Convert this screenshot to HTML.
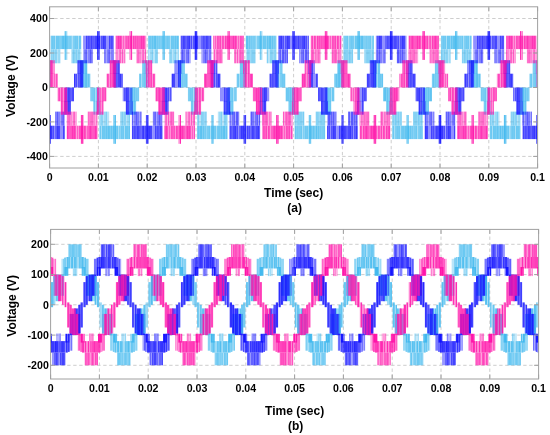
<!DOCTYPE html>
<html><head><meta charset="utf-8"><title>Voltage waveforms</title>
<style>html,body{margin:0;padding:0;background:#fff;width:550px;height:435px;overflow:hidden}svg{display:block;filter:blur(0.4px)}</style>
</head><body>
<svg width="550" height="435" viewBox="0 0 550 435">
<style>
.g{stroke:#cecece;stroke-width:1;stroke-dasharray:3.4 2.6;stroke-dashoffset:1.4;fill:none}
.gv{stroke:#cecece;stroke-width:1;stroke-dasharray:3.4 2.6;stroke-dashoffset:4.9;fill:none}
.ax{fill:none;stroke:#a0a0a0;stroke-width:1}
.tk{stroke:#a0a0a0;stroke-width:1}
.t{font-family:"Liberation Sans",Arial,sans-serif;font-weight:bold;font-size:10.6px;fill:#000}
.l{font-family:"Liberation Sans",Arial,sans-serif;font-weight:bold;font-size:12px;fill:#000}
</style>
<rect width="550" height="435" fill="#fff"/>
<defs><pattern id="pdb10" patternUnits="userSpaceOnUse" width="23" height="4" fill="#1010ff"><rect x="0" width="1" height="4" fill-opacity="0.51"/><rect x="1" width="1" height="4" fill-opacity="0.49"/><rect x="2" width="1" height="4" fill-opacity="0.52"/><rect x="3" width="1" height="4" fill-opacity="0.50"/><rect x="4" width="1" height="4" fill-opacity="0.56"/><rect x="5" width="1" height="4" fill-opacity="0.31"/><rect x="6" width="1" height="4" fill-opacity="0.42"/><rect x="7" width="1" height="4" fill-opacity="0.54"/><rect x="8" width="1" height="4" fill-opacity="0.31"/><rect x="9" width="1" height="4" fill-opacity="0.59"/><rect x="10" width="1" height="4" fill-opacity="0.52"/><rect x="11" width="1" height="4" fill-opacity="0.31"/><rect x="12" width="1" height="4" fill-opacity="0.31"/><rect x="13" width="1" height="4" fill-opacity="0.41"/><rect x="14" width="1" height="4" fill-opacity="0.45"/><rect x="15" width="1" height="4" fill-opacity="0.31"/><rect x="16" width="1" height="4" fill-opacity="0.49"/><rect x="17" width="1" height="4" fill-opacity="0.50"/><rect x="18" width="1" height="4" fill-opacity="0.50"/><rect x="19" width="1" height="4" fill-opacity="0.49"/><rect x="20" width="1" height="4" fill-opacity="0.60"/><rect x="21" width="1" height="4" fill-opacity="0.57"/><rect x="22" width="1" height="4" fill-opacity="0.46"/></pattern>
<pattern id="pdb12" patternUnits="userSpaceOnUse" width="23" height="4" fill="#1010ff"><rect x="0" width="1" height="4" fill-opacity="0.56"/><rect x="1" width="1" height="4" fill-opacity="0.37"/><rect x="2" width="1" height="4" fill-opacity="0.58"/><rect x="3" width="1" height="4" fill-opacity="0.58"/><rect x="4" width="1" height="4" fill-opacity="0.67"/><rect x="5" width="1" height="4" fill-opacity="0.37"/><rect x="6" width="1" height="4" fill-opacity="0.68"/><rect x="7" width="1" height="4" fill-opacity="0.70"/><rect x="8" width="1" height="4" fill-opacity="0.51"/><rect x="9" width="1" height="4" fill-opacity="0.66"/><rect x="10" width="1" height="4" fill-opacity="0.52"/><rect x="11" width="1" height="4" fill-opacity="0.69"/><rect x="12" width="1" height="4" fill-opacity="0.52"/><rect x="13" width="1" height="4" fill-opacity="0.52"/><rect x="14" width="1" height="4" fill-opacity="0.37"/><rect x="15" width="1" height="4" fill-opacity="0.54"/><rect x="16" width="1" height="4" fill-opacity="0.59"/><rect x="17" width="1" height="4" fill-opacity="0.65"/><rect x="18" width="1" height="4" fill-opacity="0.37"/><rect x="19" width="1" height="4" fill-opacity="0.52"/><rect x="20" width="1" height="4" fill-opacity="0.54"/><rect x="21" width="1" height="4" fill-opacity="0.69"/><rect x="22" width="1" height="4" fill-opacity="0.56"/></pattern>
<pattern id="pdb14" patternUnits="userSpaceOnUse" width="23" height="4" fill="#1010ff"><rect x="0" width="1" height="4" fill-opacity="0.64"/><rect x="1" width="1" height="4" fill-opacity="0.77"/><rect x="2" width="1" height="4" fill-opacity="0.62"/><rect x="3" width="1" height="4" fill-opacity="0.64"/><rect x="4" width="1" height="4" fill-opacity="0.75"/><rect x="5" width="1" height="4" fill-opacity="0.66"/><rect x="6" width="1" height="4" fill-opacity="0.43"/><rect x="7" width="1" height="4" fill-opacity="0.43"/><rect x="8" width="1" height="4" fill-opacity="0.65"/><rect x="9" width="1" height="4" fill-opacity="0.67"/><rect x="10" width="1" height="4" fill-opacity="0.79"/><rect x="11" width="1" height="4" fill-opacity="0.71"/><rect x="12" width="1" height="4" fill-opacity="0.64"/><rect x="13" width="1" height="4" fill-opacity="0.43"/><rect x="14" width="1" height="4" fill-opacity="0.76"/><rect x="15" width="1" height="4" fill-opacity="0.64"/><rect x="16" width="1" height="4" fill-opacity="0.79"/><rect x="17" width="1" height="4" fill-opacity="0.79"/><rect x="18" width="1" height="4" fill-opacity="0.72"/><rect x="19" width="1" height="4" fill-opacity="0.62"/><rect x="20" width="1" height="4" fill-opacity="0.43"/><rect x="21" width="1" height="4" fill-opacity="0.65"/><rect x="22" width="1" height="4" fill-opacity="0.65"/></pattern>
<pattern id="pdb15" patternUnits="userSpaceOnUse" width="23" height="4" fill="#1010ff"><rect x="0" width="1" height="4" fill-opacity="0.77"/><rect x="1" width="1" height="4" fill-opacity="0.69"/><rect x="2" width="1" height="4" fill-opacity="0.66"/><rect x="3" width="1" height="4" fill-opacity="0.76"/><rect x="4" width="1" height="4" fill-opacity="0.77"/><rect x="5" width="1" height="4" fill-opacity="0.83"/><rect x="6" width="1" height="4" fill-opacity="0.65"/><rect x="7" width="1" height="4" fill-opacity="0.74"/><rect x="8" width="1" height="4" fill-opacity="0.46"/><rect x="9" width="1" height="4" fill-opacity="0.72"/><rect x="10" width="1" height="4" fill-opacity="0.68"/><rect x="11" width="1" height="4" fill-opacity="0.83"/><rect x="12" width="1" height="4" fill-opacity="0.78"/><rect x="13" width="1" height="4" fill-opacity="0.77"/><rect x="14" width="1" height="4" fill-opacity="0.46"/><rect x="15" width="1" height="4" fill-opacity="0.46"/><rect x="16" width="1" height="4" fill-opacity="0.46"/><rect x="17" width="1" height="4" fill-opacity="0.79"/><rect x="18" width="1" height="4" fill-opacity="0.65"/><rect x="19" width="1" height="4" fill-opacity="0.75"/><rect x="20" width="1" height="4" fill-opacity="0.71"/><rect x="21" width="1" height="4" fill-opacity="0.67"/><rect x="22" width="1" height="4" fill-opacity="0.80"/></pattern>
<pattern id="pdb16" patternUnits="userSpaceOnUse" width="23" height="4" fill="#1010ff"><rect x="0" width="1" height="4" fill-opacity="0.85"/><rect x="1" width="1" height="4" fill-opacity="0.86"/><rect x="2" width="1" height="4" fill-opacity="0.77"/><rect x="3" width="1" height="4" fill-opacity="0.88"/><rect x="4" width="1" height="4" fill-opacity="0.78"/><rect x="5" width="1" height="4" fill-opacity="0.87"/><rect x="6" width="1" height="4" fill-opacity="0.82"/><rect x="7" width="1" height="4" fill-opacity="0.82"/><rect x="8" width="1" height="4" fill-opacity="0.72"/><rect x="9" width="1" height="4" fill-opacity="0.90"/><rect x="10" width="1" height="4" fill-opacity="0.85"/><rect x="11" width="1" height="4" fill-opacity="0.85"/><rect x="12" width="1" height="4" fill-opacity="0.79"/><rect x="13" width="1" height="4" fill-opacity="0.72"/><rect x="14" width="1" height="4" fill-opacity="0.71"/><rect x="15" width="1" height="4" fill-opacity="0.80"/><rect x="16" width="1" height="4" fill-opacity="0.84"/><rect x="17" width="1" height="4" fill-opacity="0.82"/><rect x="18" width="1" height="4" fill-opacity="0.75"/><rect x="19" width="1" height="4" fill-opacity="0.50"/><rect x="20" width="1" height="4" fill-opacity="0.84"/><rect x="21" width="1" height="4" fill-opacity="0.73"/><rect x="22" width="1" height="4" fill-opacity="0.83"/></pattern>
<pattern id="pdb18" patternUnits="userSpaceOnUse" width="23" height="4" fill="#1010ff"><rect x="0" width="1" height="4" fill-opacity="0.98"/><rect x="1" width="1" height="4" fill-opacity="0.93"/><rect x="2" width="1" height="4" fill-opacity="0.89"/><rect x="3" width="1" height="4" fill-opacity="0.98"/><rect x="4" width="1" height="4" fill-opacity="0.88"/><rect x="5" width="1" height="4" fill-opacity="0.86"/><rect x="6" width="1" height="4" fill-opacity="0.56"/><rect x="7" width="1" height="4" fill-opacity="0.97"/><rect x="8" width="1" height="4" fill-opacity="0.94"/><rect x="9" width="1" height="4" fill-opacity="0.86"/><rect x="10" width="1" height="4" fill-opacity="0.56"/><rect x="11" width="1" height="4" fill-opacity="0.86"/><rect x="12" width="1" height="4" fill-opacity="0.88"/><rect x="13" width="1" height="4" fill-opacity="0.90"/><rect x="14" width="1" height="4" fill-opacity="0.97"/><rect x="15" width="1" height="4" fill-opacity="0.89"/><rect x="16" width="1" height="4" fill-opacity="0.56"/><rect x="17" width="1" height="4" fill-opacity="0.56"/><rect x="18" width="1" height="4" fill-opacity="0.81"/><rect x="19" width="1" height="4" fill-opacity="0.91"/><rect x="20" width="1" height="4" fill-opacity="0.96"/><rect x="21" width="1" height="4" fill-opacity="0.56"/><rect x="22" width="1" height="4" fill-opacity="0.56"/></pattern>
<pattern id="plb10" patternUnits="userSpaceOnUse" width="23" height="4" fill="#40b8ee"><rect x="0" width="1" height="4" fill-opacity="0.40"/><rect x="1" width="1" height="4" fill-opacity="0.45"/><rect x="2" width="1" height="4" fill-opacity="0.31"/><rect x="3" width="1" height="4" fill-opacity="0.31"/><rect x="4" width="1" height="4" fill-opacity="0.49"/><rect x="5" width="1" height="4" fill-opacity="0.53"/><rect x="6" width="1" height="4" fill-opacity="0.59"/><rect x="7" width="1" height="4" fill-opacity="0.44"/><rect x="8" width="1" height="4" fill-opacity="0.44"/><rect x="9" width="1" height="4" fill-opacity="0.31"/><rect x="10" width="1" height="4" fill-opacity="0.54"/><rect x="11" width="1" height="4" fill-opacity="0.45"/><rect x="12" width="1" height="4" fill-opacity="0.54"/><rect x="13" width="1" height="4" fill-opacity="0.52"/><rect x="14" width="1" height="4" fill-opacity="0.48"/><rect x="15" width="1" height="4" fill-opacity="0.58"/><rect x="16" width="1" height="4" fill-opacity="0.31"/><rect x="17" width="1" height="4" fill-opacity="0.54"/><rect x="18" width="1" height="4" fill-opacity="0.31"/><rect x="19" width="1" height="4" fill-opacity="0.53"/><rect x="20" width="1" height="4" fill-opacity="0.48"/><rect x="21" width="1" height="4" fill-opacity="0.58"/><rect x="22" width="1" height="4" fill-opacity="0.59"/></pattern>
<pattern id="plb12" patternUnits="userSpaceOnUse" width="23" height="4" fill="#40b8ee"><rect x="0" width="1" height="4" fill-opacity="0.63"/><rect x="1" width="1" height="4" fill-opacity="0.64"/><rect x="2" width="1" height="4" fill-opacity="0.63"/><rect x="3" width="1" height="4" fill-opacity="0.54"/><rect x="4" width="1" height="4" fill-opacity="0.70"/><rect x="5" width="1" height="4" fill-opacity="0.61"/><rect x="6" width="1" height="4" fill-opacity="0.56"/><rect x="7" width="1" height="4" fill-opacity="0.67"/><rect x="8" width="1" height="4" fill-opacity="0.52"/><rect x="9" width="1" height="4" fill-opacity="0.61"/><rect x="10" width="1" height="4" fill-opacity="0.60"/><rect x="11" width="1" height="4" fill-opacity="0.37"/><rect x="12" width="1" height="4" fill-opacity="0.51"/><rect x="13" width="1" height="4" fill-opacity="0.53"/><rect x="14" width="1" height="4" fill-opacity="0.66"/><rect x="15" width="1" height="4" fill-opacity="0.37"/><rect x="16" width="1" height="4" fill-opacity="0.37"/><rect x="17" width="1" height="4" fill-opacity="0.64"/><rect x="18" width="1" height="4" fill-opacity="0.64"/><rect x="19" width="1" height="4" fill-opacity="0.60"/><rect x="20" width="1" height="4" fill-opacity="0.52"/><rect x="21" width="1" height="4" fill-opacity="0.61"/><rect x="22" width="1" height="4" fill-opacity="0.65"/></pattern>
<pattern id="plb14" patternUnits="userSpaceOnUse" width="23" height="4" fill="#40b8ee"><rect x="0" width="1" height="4" fill-opacity="0.70"/><rect x="1" width="1" height="4" fill-opacity="0.71"/><rect x="2" width="1" height="4" fill-opacity="0.68"/><rect x="3" width="1" height="4" fill-opacity="0.78"/><rect x="4" width="1" height="4" fill-opacity="0.77"/><rect x="5" width="1" height="4" fill-opacity="0.70"/><rect x="6" width="1" height="4" fill-opacity="0.64"/><rect x="7" width="1" height="4" fill-opacity="0.70"/><rect x="8" width="1" height="4" fill-opacity="0.61"/><rect x="9" width="1" height="4" fill-opacity="0.70"/><rect x="10" width="1" height="4" fill-opacity="0.76"/><rect x="11" width="1" height="4" fill-opacity="0.70"/><rect x="12" width="1" height="4" fill-opacity="0.61"/><rect x="13" width="1" height="4" fill-opacity="0.68"/><rect x="14" width="1" height="4" fill-opacity="0.78"/><rect x="15" width="1" height="4" fill-opacity="0.69"/><rect x="16" width="1" height="4" fill-opacity="0.43"/><rect x="17" width="1" height="4" fill-opacity="0.76"/><rect x="18" width="1" height="4" fill-opacity="0.70"/><rect x="19" width="1" height="4" fill-opacity="0.64"/><rect x="20" width="1" height="4" fill-opacity="0.79"/><rect x="21" width="1" height="4" fill-opacity="0.43"/><rect x="22" width="1" height="4" fill-opacity="0.60"/></pattern>
<pattern id="plb15" patternUnits="userSpaceOnUse" width="23" height="4" fill="#40b8ee"><rect x="0" width="1" height="4" fill-opacity="0.70"/><rect x="1" width="1" height="4" fill-opacity="0.71"/><rect x="2" width="1" height="4" fill-opacity="0.77"/><rect x="3" width="1" height="4" fill-opacity="0.46"/><rect x="4" width="1" height="4" fill-opacity="0.67"/><rect x="5" width="1" height="4" fill-opacity="0.70"/><rect x="6" width="1" height="4" fill-opacity="0.76"/><rect x="7" width="1" height="4" fill-opacity="0.73"/><rect x="8" width="1" height="4" fill-opacity="0.76"/><rect x="9" width="1" height="4" fill-opacity="0.46"/><rect x="10" width="1" height="4" fill-opacity="0.78"/><rect x="11" width="1" height="4" fill-opacity="0.76"/><rect x="12" width="1" height="4" fill-opacity="0.77"/><rect x="13" width="1" height="4" fill-opacity="0.70"/><rect x="14" width="1" height="4" fill-opacity="0.81"/><rect x="15" width="1" height="4" fill-opacity="0.71"/><rect x="16" width="1" height="4" fill-opacity="0.83"/><rect x="17" width="1" height="4" fill-opacity="0.85"/><rect x="18" width="1" height="4" fill-opacity="0.68"/><rect x="19" width="1" height="4" fill-opacity="0.80"/><rect x="20" width="1" height="4" fill-opacity="0.67"/><rect x="21" width="1" height="4" fill-opacity="0.73"/><rect x="22" width="1" height="4" fill-opacity="0.68"/></pattern>
<pattern id="plb16" patternUnits="userSpaceOnUse" width="23" height="4" fill="#40b8ee"><rect x="0" width="1" height="4" fill-opacity="0.84"/><rect x="1" width="1" height="4" fill-opacity="0.50"/><rect x="2" width="1" height="4" fill-opacity="0.84"/><rect x="3" width="1" height="4" fill-opacity="0.89"/><rect x="4" width="1" height="4" fill-opacity="0.50"/><rect x="5" width="1" height="4" fill-opacity="0.85"/><rect x="6" width="1" height="4" fill-opacity="0.84"/><rect x="7" width="1" height="4" fill-opacity="0.71"/><rect x="8" width="1" height="4" fill-opacity="0.50"/><rect x="9" width="1" height="4" fill-opacity="0.50"/><rect x="10" width="1" height="4" fill-opacity="0.80"/><rect x="11" width="1" height="4" fill-opacity="0.73"/><rect x="12" width="1" height="4" fill-opacity="0.74"/><rect x="13" width="1" height="4" fill-opacity="0.90"/><rect x="14" width="1" height="4" fill-opacity="0.72"/><rect x="15" width="1" height="4" fill-opacity="0.50"/><rect x="16" width="1" height="4" fill-opacity="0.79"/><rect x="17" width="1" height="4" fill-opacity="0.77"/><rect x="18" width="1" height="4" fill-opacity="0.80"/><rect x="19" width="1" height="4" fill-opacity="0.82"/><rect x="20" width="1" height="4" fill-opacity="0.50"/><rect x="21" width="1" height="4" fill-opacity="0.87"/><rect x="22" width="1" height="4" fill-opacity="0.79"/></pattern>
<pattern id="plb18" patternUnits="userSpaceOnUse" width="23" height="4" fill="#40b8ee"><rect x="0" width="1" height="4" fill-opacity="0.88"/><rect x="1" width="1" height="4" fill-opacity="0.83"/><rect x="2" width="1" height="4" fill-opacity="0.80"/><rect x="3" width="1" height="4" fill-opacity="0.96"/><rect x="4" width="1" height="4" fill-opacity="0.97"/><rect x="5" width="1" height="4" fill-opacity="0.88"/><rect x="6" width="1" height="4" fill-opacity="0.90"/><rect x="7" width="1" height="4" fill-opacity="0.96"/><rect x="8" width="1" height="4" fill-opacity="0.98"/><rect x="9" width="1" height="4" fill-opacity="0.96"/><rect x="10" width="1" height="4" fill-opacity="0.88"/><rect x="11" width="1" height="4" fill-opacity="0.98"/><rect x="12" width="1" height="4" fill-opacity="0.95"/><rect x="13" width="1" height="4" fill-opacity="0.88"/><rect x="14" width="1" height="4" fill-opacity="0.81"/><rect x="15" width="1" height="4" fill-opacity="0.89"/><rect x="16" width="1" height="4" fill-opacity="0.56"/><rect x="17" width="1" height="4" fill-opacity="0.93"/><rect x="18" width="1" height="4" fill-opacity="0.85"/><rect x="19" width="1" height="4" fill-opacity="0.93"/><rect x="20" width="1" height="4" fill-opacity="0.93"/><rect x="21" width="1" height="4" fill-opacity="0.91"/><rect x="22" width="1" height="4" fill-opacity="1.00"/></pattern>
<pattern id="ppk10" patternUnits="userSpaceOnUse" width="23" height="4" fill="#ff10a8"><rect x="0" width="1" height="4" fill-opacity="0.54"/><rect x="1" width="1" height="4" fill-opacity="0.60"/><rect x="2" width="1" height="4" fill-opacity="0.31"/><rect x="3" width="1" height="4" fill-opacity="0.55"/><rect x="4" width="1" height="4" fill-opacity="0.48"/><rect x="5" width="1" height="4" fill-opacity="0.31"/><rect x="6" width="1" height="4" fill-opacity="0.48"/><rect x="7" width="1" height="4" fill-opacity="0.31"/><rect x="8" width="1" height="4" fill-opacity="0.58"/><rect x="9" width="1" height="4" fill-opacity="0.50"/><rect x="10" width="1" height="4" fill-opacity="0.51"/><rect x="11" width="1" height="4" fill-opacity="0.53"/><rect x="12" width="1" height="4" fill-opacity="0.42"/><rect x="13" width="1" height="4" fill-opacity="0.55"/><rect x="14" width="1" height="4" fill-opacity="0.31"/><rect x="15" width="1" height="4" fill-opacity="0.43"/><rect x="16" width="1" height="4" fill-opacity="0.43"/><rect x="17" width="1" height="4" fill-opacity="0.52"/><rect x="18" width="1" height="4" fill-opacity="0.31"/><rect x="19" width="1" height="4" fill-opacity="0.48"/><rect x="20" width="1" height="4" fill-opacity="0.52"/><rect x="21" width="1" height="4" fill-opacity="0.46"/><rect x="22" width="1" height="4" fill-opacity="0.51"/></pattern>
<pattern id="ppk12" patternUnits="userSpaceOnUse" width="23" height="4" fill="#ff10a8"><rect x="0" width="1" height="4" fill-opacity="0.64"/><rect x="1" width="1" height="4" fill-opacity="0.50"/><rect x="2" width="1" height="4" fill-opacity="0.51"/><rect x="3" width="1" height="4" fill-opacity="0.37"/><rect x="4" width="1" height="4" fill-opacity="0.58"/><rect x="5" width="1" height="4" fill-opacity="0.65"/><rect x="6" width="1" height="4" fill-opacity="0.37"/><rect x="7" width="1" height="4" fill-opacity="0.69"/><rect x="8" width="1" height="4" fill-opacity="0.37"/><rect x="9" width="1" height="4" fill-opacity="0.59"/><rect x="10" width="1" height="4" fill-opacity="0.69"/><rect x="11" width="1" height="4" fill-opacity="0.60"/><rect x="12" width="1" height="4" fill-opacity="0.64"/><rect x="13" width="1" height="4" fill-opacity="0.70"/><rect x="14" width="1" height="4" fill-opacity="0.62"/><rect x="15" width="1" height="4" fill-opacity="0.37"/><rect x="16" width="1" height="4" fill-opacity="0.59"/><rect x="17" width="1" height="4" fill-opacity="0.51"/><rect x="18" width="1" height="4" fill-opacity="0.52"/><rect x="19" width="1" height="4" fill-opacity="0.63"/><rect x="20" width="1" height="4" fill-opacity="0.55"/><rect x="21" width="1" height="4" fill-opacity="0.58"/><rect x="22" width="1" height="4" fill-opacity="0.61"/></pattern>
<pattern id="ppk14" patternUnits="userSpaceOnUse" width="23" height="4" fill="#ff10a8"><rect x="0" width="1" height="4" fill-opacity="0.79"/><rect x="1" width="1" height="4" fill-opacity="0.65"/><rect x="2" width="1" height="4" fill-opacity="0.43"/><rect x="3" width="1" height="4" fill-opacity="0.76"/><rect x="4" width="1" height="4" fill-opacity="0.67"/><rect x="5" width="1" height="4" fill-opacity="0.74"/><rect x="6" width="1" height="4" fill-opacity="0.72"/><rect x="7" width="1" height="4" fill-opacity="0.75"/><rect x="8" width="1" height="4" fill-opacity="0.65"/><rect x="9" width="1" height="4" fill-opacity="0.78"/><rect x="10" width="1" height="4" fill-opacity="0.61"/><rect x="11" width="1" height="4" fill-opacity="0.43"/><rect x="12" width="1" height="4" fill-opacity="0.69"/><rect x="13" width="1" height="4" fill-opacity="0.62"/><rect x="14" width="1" height="4" fill-opacity="0.61"/><rect x="15" width="1" height="4" fill-opacity="0.43"/><rect x="16" width="1" height="4" fill-opacity="0.71"/><rect x="17" width="1" height="4" fill-opacity="0.67"/><rect x="18" width="1" height="4" fill-opacity="0.64"/><rect x="19" width="1" height="4" fill-opacity="0.75"/><rect x="20" width="1" height="4" fill-opacity="0.61"/><rect x="21" width="1" height="4" fill-opacity="0.43"/><rect x="22" width="1" height="4" fill-opacity="0.72"/></pattern>
<pattern id="ppk15" patternUnits="userSpaceOnUse" width="23" height="4" fill="#ff10a8"><rect x="0" width="1" height="4" fill-opacity="0.69"/><rect x="1" width="1" height="4" fill-opacity="0.70"/><rect x="2" width="1" height="4" fill-opacity="0.72"/><rect x="3" width="1" height="4" fill-opacity="0.85"/><rect x="4" width="1" height="4" fill-opacity="0.76"/><rect x="5" width="1" height="4" fill-opacity="0.83"/><rect x="6" width="1" height="4" fill-opacity="0.72"/><rect x="7" width="1" height="4" fill-opacity="0.46"/><rect x="8" width="1" height="4" fill-opacity="0.67"/><rect x="9" width="1" height="4" fill-opacity="0.46"/><rect x="10" width="1" height="4" fill-opacity="0.75"/><rect x="11" width="1" height="4" fill-opacity="0.71"/><rect x="12" width="1" height="4" fill-opacity="0.67"/><rect x="13" width="1" height="4" fill-opacity="0.78"/><rect x="14" width="1" height="4" fill-opacity="0.46"/><rect x="15" width="1" height="4" fill-opacity="0.79"/><rect x="16" width="1" height="4" fill-opacity="0.71"/><rect x="17" width="1" height="4" fill-opacity="0.46"/><rect x="18" width="1" height="4" fill-opacity="0.80"/><rect x="19" width="1" height="4" fill-opacity="0.67"/><rect x="20" width="1" height="4" fill-opacity="0.76"/><rect x="21" width="1" height="4" fill-opacity="0.84"/><rect x="22" width="1" height="4" fill-opacity="0.74"/></pattern>
<pattern id="ppk16" patternUnits="userSpaceOnUse" width="23" height="4" fill="#ff10a8"><rect x="0" width="1" height="4" fill-opacity="0.76"/><rect x="1" width="1" height="4" fill-opacity="0.78"/><rect x="2" width="1" height="4" fill-opacity="0.88"/><rect x="3" width="1" height="4" fill-opacity="0.77"/><rect x="4" width="1" height="4" fill-opacity="0.77"/><rect x="5" width="1" height="4" fill-opacity="0.78"/><rect x="6" width="1" height="4" fill-opacity="0.81"/><rect x="7" width="1" height="4" fill-opacity="0.81"/><rect x="8" width="1" height="4" fill-opacity="0.81"/><rect x="9" width="1" height="4" fill-opacity="0.85"/><rect x="10" width="1" height="4" fill-opacity="0.76"/><rect x="11" width="1" height="4" fill-opacity="0.50"/><rect x="12" width="1" height="4" fill-opacity="0.81"/><rect x="13" width="1" height="4" fill-opacity="0.89"/><rect x="14" width="1" height="4" fill-opacity="0.86"/><rect x="15" width="1" height="4" fill-opacity="0.50"/><rect x="16" width="1" height="4" fill-opacity="0.86"/><rect x="17" width="1" height="4" fill-opacity="0.50"/><rect x="18" width="1" height="4" fill-opacity="0.50"/><rect x="19" width="1" height="4" fill-opacity="0.88"/><rect x="20" width="1" height="4" fill-opacity="0.50"/><rect x="21" width="1" height="4" fill-opacity="0.73"/><rect x="22" width="1" height="4" fill-opacity="0.83"/></pattern>
<pattern id="ppk18" patternUnits="userSpaceOnUse" width="23" height="4" fill="#ff10a8"><rect x="0" width="1" height="4" fill-opacity="0.84"/><rect x="1" width="1" height="4" fill-opacity="0.90"/><rect x="2" width="1" height="4" fill-opacity="0.88"/><rect x="3" width="1" height="4" fill-opacity="0.99"/><rect x="4" width="1" height="4" fill-opacity="0.90"/><rect x="5" width="1" height="4" fill-opacity="0.94"/><rect x="6" width="1" height="4" fill-opacity="0.98"/><rect x="7" width="1" height="4" fill-opacity="0.97"/><rect x="8" width="1" height="4" fill-opacity="0.97"/><rect x="9" width="1" height="4" fill-opacity="0.97"/><rect x="10" width="1" height="4" fill-opacity="0.99"/><rect x="11" width="1" height="4" fill-opacity="0.90"/><rect x="12" width="1" height="4" fill-opacity="0.96"/><rect x="13" width="1" height="4" fill-opacity="0.88"/><rect x="14" width="1" height="4" fill-opacity="0.56"/><rect x="15" width="1" height="4" fill-opacity="1.00"/><rect x="16" width="1" height="4" fill-opacity="0.83"/><rect x="17" width="1" height="4" fill-opacity="0.88"/><rect x="18" width="1" height="4" fill-opacity="0.99"/><rect x="19" width="1" height="4" fill-opacity="0.56"/><rect x="20" width="1" height="4" fill-opacity="0.82"/><rect x="21" width="1" height="4" fill-opacity="0.96"/><rect x="22" width="1" height="4" fill-opacity="0.81"/></pattern></defs>
<line x1="98.4" y1="6.8" x2="98.4" y2="168.0" class="gv"/>
<line x1="147.2" y1="6.8" x2="147.2" y2="168.0" class="gv"/>
<line x1="196.0" y1="6.8" x2="196.0" y2="168.0" class="gv"/>
<line x1="244.8" y1="6.8" x2="244.8" y2="168.0" class="gv"/>
<line x1="293.6" y1="6.8" x2="293.6" y2="168.0" class="gv"/>
<line x1="342.4" y1="6.8" x2="342.4" y2="168.0" class="gv"/>
<line x1="391.2" y1="6.8" x2="391.2" y2="168.0" class="gv"/>
<line x1="440.0" y1="6.8" x2="440.0" y2="168.0" class="gv"/>
<line x1="488.8" y1="6.8" x2="488.8" y2="168.0" class="gv"/>
<line x1="49.6" y1="18.5" x2="537.6" y2="18.5" class="g"/>
<line x1="49.6" y1="53.0" x2="537.6" y2="53.0" class="g"/>
<line x1="49.6" y1="87.5" x2="537.6" y2="87.5" class="g"/>
<line x1="49.6" y1="121.9" x2="537.6" y2="121.9" class="g"/>
<line x1="49.6" y1="156.4" x2="537.6" y2="156.4" class="g"/>
<rect x="65.9" y="31.1" width="1.3" height="28.8" fill="url(#plb16)"/>
<rect x="64.6" y="31.1" width="1.3" height="28.8" fill="url(#plb16)"/>
<rect x="65.9" y="35.7" width="5.6" height="13.4" fill="url(#plb15)"/>
<rect x="60.3" y="35.7" width="5.6" height="13.4" fill="url(#plb15)"/>
<rect x="71.5" y="35.7" width="9.7" height="13.4" fill="url(#plb15)"/>
<rect x="50.6" y="35.7" width="9.7" height="13.4" fill="url(#plb15)"/>
<rect x="71.5" y="49.2" width="9.7" height="14.1" fill="url(#plb12)"/>
<rect x="50.6" y="49.2" width="9.7" height="14.1" fill="url(#plb12)"/>
<rect x="80.5" y="60.2" width="6.8" height="13.8" fill="url(#plb15)"/>
<rect x="49.6" y="60.2" width="1.7" height="13.8" fill="url(#plb15)"/>
<rect x="114.7" y="115.0" width="1.3" height="28.8" fill="url(#plb16)"/>
<rect x="113.4" y="115.0" width="1.3" height="28.8" fill="url(#plb16)"/>
<rect x="114.7" y="125.7" width="5.6" height="13.4" fill="url(#plb15)"/>
<rect x="109.1" y="125.7" width="5.6" height="13.4" fill="url(#plb15)"/>
<rect x="120.3" y="125.7" width="9.7" height="13.4" fill="url(#plb15)"/>
<rect x="99.4" y="125.7" width="9.7" height="13.4" fill="url(#plb15)"/>
<rect x="120.3" y="111.6" width="9.7" height="14.1" fill="url(#plb12)"/>
<rect x="99.4" y="111.6" width="9.7" height="14.1" fill="url(#plb12)"/>
<rect x="129.3" y="100.9" width="6.8" height="13.8" fill="url(#plb15)"/>
<rect x="93.3" y="100.9" width="6.8" height="13.8" fill="url(#plb15)"/>
<rect x="163.5" y="31.1" width="1.3" height="28.8" fill="url(#plb16)"/>
<rect x="162.2" y="31.1" width="1.3" height="28.8" fill="url(#plb16)"/>
<rect x="163.5" y="35.7" width="5.6" height="13.4" fill="url(#plb15)"/>
<rect x="157.9" y="35.7" width="5.6" height="13.4" fill="url(#plb15)"/>
<rect x="169.1" y="35.7" width="9.7" height="13.4" fill="url(#plb15)"/>
<rect x="148.2" y="35.7" width="9.7" height="13.4" fill="url(#plb15)"/>
<rect x="169.1" y="49.2" width="9.7" height="14.1" fill="url(#plb12)"/>
<rect x="148.2" y="49.2" width="9.7" height="14.1" fill="url(#plb12)"/>
<rect x="178.1" y="60.2" width="6.8" height="13.8" fill="url(#plb15)"/>
<rect x="142.1" y="60.2" width="6.8" height="13.8" fill="url(#plb15)"/>
<rect x="212.3" y="115.0" width="1.3" height="28.8" fill="url(#plb16)"/>
<rect x="211.0" y="115.0" width="1.3" height="28.8" fill="url(#plb16)"/>
<rect x="212.3" y="125.7" width="5.6" height="13.4" fill="url(#plb15)"/>
<rect x="206.7" y="125.7" width="5.6" height="13.4" fill="url(#plb15)"/>
<rect x="217.9" y="125.7" width="9.7" height="13.4" fill="url(#plb15)"/>
<rect x="197.0" y="125.7" width="9.7" height="13.4" fill="url(#plb15)"/>
<rect x="217.9" y="111.6" width="9.7" height="14.1" fill="url(#plb12)"/>
<rect x="197.0" y="111.6" width="9.7" height="14.1" fill="url(#plb12)"/>
<rect x="226.9" y="100.9" width="6.8" height="13.8" fill="url(#plb15)"/>
<rect x="190.9" y="100.9" width="6.8" height="13.8" fill="url(#plb15)"/>
<rect x="261.1" y="31.1" width="1.3" height="28.8" fill="url(#plb16)"/>
<rect x="259.8" y="31.1" width="1.3" height="28.8" fill="url(#plb16)"/>
<rect x="261.1" y="35.7" width="5.6" height="13.4" fill="url(#plb15)"/>
<rect x="255.5" y="35.7" width="5.6" height="13.4" fill="url(#plb15)"/>
<rect x="266.7" y="35.7" width="9.7" height="13.4" fill="url(#plb15)"/>
<rect x="245.8" y="35.7" width="9.7" height="13.4" fill="url(#plb15)"/>
<rect x="266.7" y="49.2" width="9.7" height="14.1" fill="url(#plb12)"/>
<rect x="245.8" y="49.2" width="9.7" height="14.1" fill="url(#plb12)"/>
<rect x="275.7" y="60.2" width="6.8" height="13.8" fill="url(#plb15)"/>
<rect x="239.7" y="60.2" width="6.8" height="13.8" fill="url(#plb15)"/>
<rect x="309.9" y="115.0" width="1.3" height="28.8" fill="url(#plb16)"/>
<rect x="308.6" y="115.0" width="1.3" height="28.8" fill="url(#plb16)"/>
<rect x="309.9" y="125.7" width="5.6" height="13.4" fill="url(#plb15)"/>
<rect x="304.3" y="125.7" width="5.6" height="13.4" fill="url(#plb15)"/>
<rect x="315.5" y="125.7" width="9.7" height="13.4" fill="url(#plb15)"/>
<rect x="294.6" y="125.7" width="9.7" height="13.4" fill="url(#plb15)"/>
<rect x="315.5" y="111.6" width="9.7" height="14.1" fill="url(#plb12)"/>
<rect x="294.6" y="111.6" width="9.7" height="14.1" fill="url(#plb12)"/>
<rect x="324.5" y="100.9" width="6.8" height="13.8" fill="url(#plb15)"/>
<rect x="288.5" y="100.9" width="6.8" height="13.8" fill="url(#plb15)"/>
<rect x="358.7" y="31.1" width="1.3" height="28.8" fill="url(#plb16)"/>
<rect x="357.4" y="31.1" width="1.3" height="28.8" fill="url(#plb16)"/>
<rect x="358.7" y="35.7" width="5.6" height="13.4" fill="url(#plb15)"/>
<rect x="353.1" y="35.7" width="5.6" height="13.4" fill="url(#plb15)"/>
<rect x="364.3" y="35.7" width="9.7" height="13.4" fill="url(#plb15)"/>
<rect x="343.4" y="35.7" width="9.7" height="13.4" fill="url(#plb15)"/>
<rect x="364.3" y="49.2" width="9.7" height="14.1" fill="url(#plb12)"/>
<rect x="343.4" y="49.2" width="9.7" height="14.1" fill="url(#plb12)"/>
<rect x="373.3" y="60.2" width="6.8" height="13.8" fill="url(#plb15)"/>
<rect x="337.3" y="60.2" width="6.8" height="13.8" fill="url(#plb15)"/>
<rect x="407.5" y="115.0" width="1.3" height="28.8" fill="url(#plb16)"/>
<rect x="406.2" y="115.0" width="1.3" height="28.8" fill="url(#plb16)"/>
<rect x="407.5" y="125.7" width="5.6" height="13.4" fill="url(#plb15)"/>
<rect x="401.9" y="125.7" width="5.6" height="13.4" fill="url(#plb15)"/>
<rect x="413.1" y="125.7" width="9.7" height="13.4" fill="url(#plb15)"/>
<rect x="392.2" y="125.7" width="9.7" height="13.4" fill="url(#plb15)"/>
<rect x="413.1" y="111.6" width="9.7" height="14.1" fill="url(#plb12)"/>
<rect x="392.2" y="111.6" width="9.7" height="14.1" fill="url(#plb12)"/>
<rect x="422.1" y="100.9" width="6.8" height="13.8" fill="url(#plb15)"/>
<rect x="386.1" y="100.9" width="6.8" height="13.8" fill="url(#plb15)"/>
<rect x="456.3" y="31.1" width="1.3" height="28.8" fill="url(#plb16)"/>
<rect x="455.0" y="31.1" width="1.3" height="28.8" fill="url(#plb16)"/>
<rect x="456.3" y="35.7" width="5.6" height="13.4" fill="url(#plb15)"/>
<rect x="450.7" y="35.7" width="5.6" height="13.4" fill="url(#plb15)"/>
<rect x="461.9" y="35.7" width="9.7" height="13.4" fill="url(#plb15)"/>
<rect x="441.0" y="35.7" width="9.7" height="13.4" fill="url(#plb15)"/>
<rect x="461.9" y="49.2" width="9.7" height="14.1" fill="url(#plb12)"/>
<rect x="441.0" y="49.2" width="9.7" height="14.1" fill="url(#plb12)"/>
<rect x="470.9" y="60.2" width="6.8" height="13.8" fill="url(#plb15)"/>
<rect x="434.9" y="60.2" width="6.8" height="13.8" fill="url(#plb15)"/>
<rect x="505.1" y="115.0" width="1.3" height="28.8" fill="url(#plb16)"/>
<rect x="503.8" y="115.0" width="1.3" height="28.8" fill="url(#plb16)"/>
<rect x="505.1" y="125.7" width="5.6" height="13.4" fill="url(#plb15)"/>
<rect x="499.5" y="125.7" width="5.6" height="13.4" fill="url(#plb15)"/>
<rect x="510.7" y="125.7" width="9.7" height="13.4" fill="url(#plb15)"/>
<rect x="489.8" y="125.7" width="9.7" height="13.4" fill="url(#plb15)"/>
<rect x="510.7" y="111.6" width="9.7" height="14.1" fill="url(#plb12)"/>
<rect x="489.8" y="111.6" width="9.7" height="14.1" fill="url(#plb12)"/>
<rect x="519.7" y="100.9" width="6.8" height="13.8" fill="url(#plb15)"/>
<rect x="483.7" y="100.9" width="6.8" height="13.8" fill="url(#plb15)"/>
<rect x="532.5" y="60.2" width="5.1" height="13.8" fill="url(#plb15)"/>
<rect x="49.6" y="115.0" width="1.3" height="28.8" fill="url(#pdb16)"/>
<rect x="49.6" y="125.7" width="5.6" height="13.4" fill="url(#pdb15)"/>
<rect x="55.2" y="125.7" width="9.7" height="13.4" fill="url(#pdb15)"/>
<rect x="55.2" y="111.6" width="9.7" height="14.1" fill="url(#pdb12)"/>
<rect x="64.2" y="100.9" width="6.8" height="13.8" fill="url(#pdb15)"/>
<rect x="98.4" y="31.1" width="1.3" height="28.8" fill="url(#pdb16)"/>
<rect x="97.1" y="31.1" width="1.3" height="28.8" fill="url(#pdb16)"/>
<rect x="98.4" y="35.7" width="5.6" height="13.4" fill="url(#pdb15)"/>
<rect x="92.8" y="35.7" width="5.6" height="13.4" fill="url(#pdb15)"/>
<rect x="104.0" y="35.7" width="9.7" height="13.4" fill="url(#pdb15)"/>
<rect x="83.1" y="35.7" width="9.7" height="13.4" fill="url(#pdb15)"/>
<rect x="104.0" y="49.2" width="9.7" height="14.1" fill="url(#pdb12)"/>
<rect x="83.1" y="49.2" width="9.7" height="14.1" fill="url(#pdb12)"/>
<rect x="113.0" y="60.2" width="6.8" height="13.8" fill="url(#pdb15)"/>
<rect x="77.0" y="60.2" width="6.8" height="13.8" fill="url(#pdb15)"/>
<rect x="147.2" y="115.0" width="1.3" height="28.8" fill="url(#pdb16)"/>
<rect x="145.9" y="115.0" width="1.3" height="28.8" fill="url(#pdb16)"/>
<rect x="147.2" y="125.7" width="5.6" height="13.4" fill="url(#pdb15)"/>
<rect x="141.6" y="125.7" width="5.6" height="13.4" fill="url(#pdb15)"/>
<rect x="152.8" y="125.7" width="9.7" height="13.4" fill="url(#pdb15)"/>
<rect x="131.9" y="125.7" width="9.7" height="13.4" fill="url(#pdb15)"/>
<rect x="152.8" y="111.6" width="9.7" height="14.1" fill="url(#pdb12)"/>
<rect x="131.9" y="111.6" width="9.7" height="14.1" fill="url(#pdb12)"/>
<rect x="161.8" y="100.9" width="6.8" height="13.8" fill="url(#pdb15)"/>
<rect x="125.8" y="100.9" width="6.8" height="13.8" fill="url(#pdb15)"/>
<rect x="196.0" y="31.1" width="1.3" height="28.8" fill="url(#pdb16)"/>
<rect x="194.7" y="31.1" width="1.3" height="28.8" fill="url(#pdb16)"/>
<rect x="196.0" y="35.7" width="5.6" height="13.4" fill="url(#pdb15)"/>
<rect x="190.4" y="35.7" width="5.6" height="13.4" fill="url(#pdb15)"/>
<rect x="201.6" y="35.7" width="9.7" height="13.4" fill="url(#pdb15)"/>
<rect x="180.7" y="35.7" width="9.7" height="13.4" fill="url(#pdb15)"/>
<rect x="201.6" y="49.2" width="9.7" height="14.1" fill="url(#pdb12)"/>
<rect x="180.7" y="49.2" width="9.7" height="14.1" fill="url(#pdb12)"/>
<rect x="210.6" y="60.2" width="6.8" height="13.8" fill="url(#pdb15)"/>
<rect x="174.6" y="60.2" width="6.8" height="13.8" fill="url(#pdb15)"/>
<rect x="244.8" y="115.0" width="1.3" height="28.8" fill="url(#pdb16)"/>
<rect x="243.5" y="115.0" width="1.3" height="28.8" fill="url(#pdb16)"/>
<rect x="244.8" y="125.7" width="5.6" height="13.4" fill="url(#pdb15)"/>
<rect x="239.2" y="125.7" width="5.6" height="13.4" fill="url(#pdb15)"/>
<rect x="250.4" y="125.7" width="9.7" height="13.4" fill="url(#pdb15)"/>
<rect x="229.5" y="125.7" width="9.7" height="13.4" fill="url(#pdb15)"/>
<rect x="250.4" y="111.6" width="9.7" height="14.1" fill="url(#pdb12)"/>
<rect x="229.5" y="111.6" width="9.7" height="14.1" fill="url(#pdb12)"/>
<rect x="259.4" y="100.9" width="6.8" height="13.8" fill="url(#pdb15)"/>
<rect x="223.4" y="100.9" width="6.8" height="13.8" fill="url(#pdb15)"/>
<rect x="293.6" y="31.1" width="1.3" height="28.8" fill="url(#pdb16)"/>
<rect x="292.3" y="31.1" width="1.3" height="28.8" fill="url(#pdb16)"/>
<rect x="293.6" y="35.7" width="5.6" height="13.4" fill="url(#pdb15)"/>
<rect x="288.0" y="35.7" width="5.6" height="13.4" fill="url(#pdb15)"/>
<rect x="299.2" y="35.7" width="9.7" height="13.4" fill="url(#pdb15)"/>
<rect x="278.3" y="35.7" width="9.7" height="13.4" fill="url(#pdb15)"/>
<rect x="299.2" y="49.2" width="9.7" height="14.1" fill="url(#pdb12)"/>
<rect x="278.3" y="49.2" width="9.7" height="14.1" fill="url(#pdb12)"/>
<rect x="308.2" y="60.2" width="6.8" height="13.8" fill="url(#pdb15)"/>
<rect x="272.2" y="60.2" width="6.8" height="13.8" fill="url(#pdb15)"/>
<rect x="342.4" y="115.0" width="1.3" height="28.8" fill="url(#pdb16)"/>
<rect x="341.1" y="115.0" width="1.3" height="28.8" fill="url(#pdb16)"/>
<rect x="342.4" y="125.7" width="5.6" height="13.4" fill="url(#pdb15)"/>
<rect x="336.8" y="125.7" width="5.6" height="13.4" fill="url(#pdb15)"/>
<rect x="348.0" y="125.7" width="9.7" height="13.4" fill="url(#pdb15)"/>
<rect x="327.1" y="125.7" width="9.7" height="13.4" fill="url(#pdb15)"/>
<rect x="348.0" y="111.6" width="9.7" height="14.1" fill="url(#pdb12)"/>
<rect x="327.1" y="111.6" width="9.7" height="14.1" fill="url(#pdb12)"/>
<rect x="357.0" y="100.9" width="6.8" height="13.8" fill="url(#pdb15)"/>
<rect x="321.0" y="100.9" width="6.8" height="13.8" fill="url(#pdb15)"/>
<rect x="391.2" y="31.1" width="1.3" height="28.8" fill="url(#pdb16)"/>
<rect x="389.9" y="31.1" width="1.3" height="28.8" fill="url(#pdb16)"/>
<rect x="391.2" y="35.7" width="5.6" height="13.4" fill="url(#pdb15)"/>
<rect x="385.6" y="35.7" width="5.6" height="13.4" fill="url(#pdb15)"/>
<rect x="396.8" y="35.7" width="9.7" height="13.4" fill="url(#pdb15)"/>
<rect x="375.9" y="35.7" width="9.7" height="13.4" fill="url(#pdb15)"/>
<rect x="396.8" y="49.2" width="9.7" height="14.1" fill="url(#pdb12)"/>
<rect x="375.9" y="49.2" width="9.7" height="14.1" fill="url(#pdb12)"/>
<rect x="405.8" y="60.2" width="6.8" height="13.8" fill="url(#pdb15)"/>
<rect x="369.8" y="60.2" width="6.8" height="13.8" fill="url(#pdb15)"/>
<rect x="440.0" y="115.0" width="1.3" height="28.8" fill="url(#pdb16)"/>
<rect x="438.7" y="115.0" width="1.3" height="28.8" fill="url(#pdb16)"/>
<rect x="440.0" y="125.7" width="5.6" height="13.4" fill="url(#pdb15)"/>
<rect x="434.4" y="125.7" width="5.6" height="13.4" fill="url(#pdb15)"/>
<rect x="445.6" y="125.7" width="9.7" height="13.4" fill="url(#pdb15)"/>
<rect x="424.7" y="125.7" width="9.7" height="13.4" fill="url(#pdb15)"/>
<rect x="445.6" y="111.6" width="9.7" height="14.1" fill="url(#pdb12)"/>
<rect x="424.7" y="111.6" width="9.7" height="14.1" fill="url(#pdb12)"/>
<rect x="454.6" y="100.9" width="6.8" height="13.8" fill="url(#pdb15)"/>
<rect x="418.6" y="100.9" width="6.8" height="13.8" fill="url(#pdb15)"/>
<rect x="488.8" y="31.1" width="1.3" height="28.8" fill="url(#pdb16)"/>
<rect x="487.5" y="31.1" width="1.3" height="28.8" fill="url(#pdb16)"/>
<rect x="488.8" y="35.7" width="5.6" height="13.4" fill="url(#pdb15)"/>
<rect x="483.2" y="35.7" width="5.6" height="13.4" fill="url(#pdb15)"/>
<rect x="494.4" y="35.7" width="9.7" height="13.4" fill="url(#pdb15)"/>
<rect x="473.5" y="35.7" width="9.7" height="13.4" fill="url(#pdb15)"/>
<rect x="494.4" y="49.2" width="9.7" height="14.1" fill="url(#pdb12)"/>
<rect x="473.5" y="49.2" width="9.7" height="14.1" fill="url(#pdb12)"/>
<rect x="503.4" y="60.2" width="6.8" height="13.8" fill="url(#pdb15)"/>
<rect x="467.4" y="60.2" width="6.8" height="13.8" fill="url(#pdb15)"/>
<rect x="537.6" y="115.0" width="0.0" height="28.8" fill="url(#pdb16)"/>
<rect x="536.3" y="115.0" width="1.3" height="28.8" fill="url(#pdb16)"/>
<rect x="537.6" y="125.7" width="0.0" height="13.4" fill="url(#pdb15)"/>
<rect x="532.0" y="125.7" width="5.6" height="13.4" fill="url(#pdb15)"/>
<rect x="522.3" y="125.7" width="9.7" height="13.4" fill="url(#pdb15)"/>
<rect x="522.3" y="111.6" width="9.7" height="14.1" fill="url(#pdb12)"/>
<rect x="516.2" y="100.9" width="6.8" height="13.8" fill="url(#pdb15)"/>
<rect x="49.6" y="60.2" width="5.1" height="13.8" fill="url(#ppk15)"/>
<rect x="82.1" y="115.0" width="1.3" height="28.8" fill="url(#ppk16)"/>
<rect x="80.8" y="115.0" width="1.3" height="28.8" fill="url(#ppk16)"/>
<rect x="82.1" y="125.7" width="5.6" height="13.4" fill="url(#ppk15)"/>
<rect x="76.5" y="125.7" width="5.6" height="13.4" fill="url(#ppk15)"/>
<rect x="87.7" y="125.7" width="9.7" height="13.4" fill="url(#ppk15)"/>
<rect x="66.8" y="125.7" width="9.7" height="13.4" fill="url(#ppk15)"/>
<rect x="87.7" y="111.6" width="9.7" height="14.1" fill="url(#ppk12)"/>
<rect x="66.8" y="111.6" width="9.7" height="14.1" fill="url(#ppk12)"/>
<rect x="96.7" y="100.9" width="6.8" height="13.8" fill="url(#ppk15)"/>
<rect x="60.7" y="100.9" width="6.8" height="13.8" fill="url(#ppk15)"/>
<rect x="130.9" y="31.1" width="1.3" height="28.8" fill="url(#ppk16)"/>
<rect x="129.6" y="31.1" width="1.3" height="28.8" fill="url(#ppk16)"/>
<rect x="130.9" y="35.7" width="5.6" height="13.4" fill="url(#ppk15)"/>
<rect x="125.3" y="35.7" width="5.6" height="13.4" fill="url(#ppk15)"/>
<rect x="136.5" y="35.7" width="9.7" height="13.4" fill="url(#ppk15)"/>
<rect x="115.6" y="35.7" width="9.7" height="13.4" fill="url(#ppk15)"/>
<rect x="136.5" y="49.2" width="9.7" height="14.1" fill="url(#ppk12)"/>
<rect x="115.6" y="49.2" width="9.7" height="14.1" fill="url(#ppk12)"/>
<rect x="145.5" y="60.2" width="6.8" height="13.8" fill="url(#ppk15)"/>
<rect x="109.5" y="60.2" width="6.8" height="13.8" fill="url(#ppk15)"/>
<rect x="179.7" y="115.0" width="1.3" height="28.8" fill="url(#ppk16)"/>
<rect x="178.4" y="115.0" width="1.3" height="28.8" fill="url(#ppk16)"/>
<rect x="179.7" y="125.7" width="5.6" height="13.4" fill="url(#ppk15)"/>
<rect x="174.1" y="125.7" width="5.6" height="13.4" fill="url(#ppk15)"/>
<rect x="185.3" y="125.7" width="9.7" height="13.4" fill="url(#ppk15)"/>
<rect x="164.4" y="125.7" width="9.7" height="13.4" fill="url(#ppk15)"/>
<rect x="185.3" y="111.6" width="9.7" height="14.1" fill="url(#ppk12)"/>
<rect x="164.4" y="111.6" width="9.7" height="14.1" fill="url(#ppk12)"/>
<rect x="194.3" y="100.9" width="6.8" height="13.8" fill="url(#ppk15)"/>
<rect x="158.3" y="100.9" width="6.8" height="13.8" fill="url(#ppk15)"/>
<rect x="228.5" y="31.1" width="1.3" height="28.8" fill="url(#ppk16)"/>
<rect x="227.2" y="31.1" width="1.3" height="28.8" fill="url(#ppk16)"/>
<rect x="228.5" y="35.7" width="5.6" height="13.4" fill="url(#ppk15)"/>
<rect x="222.9" y="35.7" width="5.6" height="13.4" fill="url(#ppk15)"/>
<rect x="234.1" y="35.7" width="9.7" height="13.4" fill="url(#ppk15)"/>
<rect x="213.2" y="35.7" width="9.7" height="13.4" fill="url(#ppk15)"/>
<rect x="234.1" y="49.2" width="9.7" height="14.1" fill="url(#ppk12)"/>
<rect x="213.2" y="49.2" width="9.7" height="14.1" fill="url(#ppk12)"/>
<rect x="243.1" y="60.2" width="6.8" height="13.8" fill="url(#ppk15)"/>
<rect x="207.1" y="60.2" width="6.8" height="13.8" fill="url(#ppk15)"/>
<rect x="277.3" y="115.0" width="1.3" height="28.8" fill="url(#ppk16)"/>
<rect x="276.0" y="115.0" width="1.3" height="28.8" fill="url(#ppk16)"/>
<rect x="277.3" y="125.7" width="5.6" height="13.4" fill="url(#ppk15)"/>
<rect x="271.7" y="125.7" width="5.6" height="13.4" fill="url(#ppk15)"/>
<rect x="282.9" y="125.7" width="9.7" height="13.4" fill="url(#ppk15)"/>
<rect x="262.0" y="125.7" width="9.7" height="13.4" fill="url(#ppk15)"/>
<rect x="282.9" y="111.6" width="9.7" height="14.1" fill="url(#ppk12)"/>
<rect x="262.0" y="111.6" width="9.7" height="14.1" fill="url(#ppk12)"/>
<rect x="291.9" y="100.9" width="6.8" height="13.8" fill="url(#ppk15)"/>
<rect x="255.9" y="100.9" width="6.8" height="13.8" fill="url(#ppk15)"/>
<rect x="326.1" y="31.1" width="1.3" height="28.8" fill="url(#ppk16)"/>
<rect x="324.8" y="31.1" width="1.3" height="28.8" fill="url(#ppk16)"/>
<rect x="326.1" y="35.7" width="5.6" height="13.4" fill="url(#ppk15)"/>
<rect x="320.5" y="35.7" width="5.6" height="13.4" fill="url(#ppk15)"/>
<rect x="331.7" y="35.7" width="9.7" height="13.4" fill="url(#ppk15)"/>
<rect x="310.8" y="35.7" width="9.7" height="13.4" fill="url(#ppk15)"/>
<rect x="331.7" y="49.2" width="9.7" height="14.1" fill="url(#ppk12)"/>
<rect x="310.8" y="49.2" width="9.7" height="14.1" fill="url(#ppk12)"/>
<rect x="340.7" y="60.2" width="6.8" height="13.8" fill="url(#ppk15)"/>
<rect x="304.7" y="60.2" width="6.8" height="13.8" fill="url(#ppk15)"/>
<rect x="374.9" y="115.0" width="1.3" height="28.8" fill="url(#ppk16)"/>
<rect x="373.6" y="115.0" width="1.3" height="28.8" fill="url(#ppk16)"/>
<rect x="374.9" y="125.7" width="5.6" height="13.4" fill="url(#ppk15)"/>
<rect x="369.3" y="125.7" width="5.6" height="13.4" fill="url(#ppk15)"/>
<rect x="380.5" y="125.7" width="9.7" height="13.4" fill="url(#ppk15)"/>
<rect x="359.6" y="125.7" width="9.7" height="13.4" fill="url(#ppk15)"/>
<rect x="380.5" y="111.6" width="9.7" height="14.1" fill="url(#ppk12)"/>
<rect x="359.6" y="111.6" width="9.7" height="14.1" fill="url(#ppk12)"/>
<rect x="389.5" y="100.9" width="6.8" height="13.8" fill="url(#ppk15)"/>
<rect x="353.5" y="100.9" width="6.8" height="13.8" fill="url(#ppk15)"/>
<rect x="423.7" y="31.1" width="1.3" height="28.8" fill="url(#ppk16)"/>
<rect x="422.4" y="31.1" width="1.3" height="28.8" fill="url(#ppk16)"/>
<rect x="423.7" y="35.7" width="5.6" height="13.4" fill="url(#ppk15)"/>
<rect x="418.1" y="35.7" width="5.6" height="13.4" fill="url(#ppk15)"/>
<rect x="429.3" y="35.7" width="9.7" height="13.4" fill="url(#ppk15)"/>
<rect x="408.4" y="35.7" width="9.7" height="13.4" fill="url(#ppk15)"/>
<rect x="429.3" y="49.2" width="9.7" height="14.1" fill="url(#ppk12)"/>
<rect x="408.4" y="49.2" width="9.7" height="14.1" fill="url(#ppk12)"/>
<rect x="438.3" y="60.2" width="6.8" height="13.8" fill="url(#ppk15)"/>
<rect x="402.3" y="60.2" width="6.8" height="13.8" fill="url(#ppk15)"/>
<rect x="472.5" y="115.0" width="1.3" height="28.8" fill="url(#ppk16)"/>
<rect x="471.2" y="115.0" width="1.3" height="28.8" fill="url(#ppk16)"/>
<rect x="472.5" y="125.7" width="5.6" height="13.4" fill="url(#ppk15)"/>
<rect x="466.9" y="125.7" width="5.6" height="13.4" fill="url(#ppk15)"/>
<rect x="478.1" y="125.7" width="9.7" height="13.4" fill="url(#ppk15)"/>
<rect x="457.2" y="125.7" width="9.7" height="13.4" fill="url(#ppk15)"/>
<rect x="478.1" y="111.6" width="9.7" height="14.1" fill="url(#ppk12)"/>
<rect x="457.2" y="111.6" width="9.7" height="14.1" fill="url(#ppk12)"/>
<rect x="487.1" y="100.9" width="6.8" height="13.8" fill="url(#ppk15)"/>
<rect x="451.1" y="100.9" width="6.8" height="13.8" fill="url(#ppk15)"/>
<rect x="521.3" y="31.1" width="1.3" height="28.8" fill="url(#ppk16)"/>
<rect x="520.0" y="31.1" width="1.3" height="28.8" fill="url(#ppk16)"/>
<rect x="521.3" y="35.7" width="5.6" height="13.4" fill="url(#ppk15)"/>
<rect x="515.7" y="35.7" width="5.6" height="13.4" fill="url(#ppk15)"/>
<rect x="526.9" y="35.7" width="9.7" height="13.4" fill="url(#ppk15)"/>
<rect x="506.0" y="35.7" width="9.7" height="13.4" fill="url(#ppk15)"/>
<rect x="526.9" y="49.2" width="9.7" height="14.1" fill="url(#ppk12)"/>
<rect x="506.0" y="49.2" width="9.7" height="14.1" fill="url(#ppk12)"/>
<rect x="535.9" y="60.2" width="1.7" height="13.8" fill="url(#ppk15)"/>
<rect x="499.9" y="60.2" width="6.8" height="13.8" fill="url(#ppk15)"/>
<rect x="80.9" y="73.7" width="9.4" height="13.8" fill="url(#plb15)"/>
<rect x="49.6" y="73.7" width="1.3" height="13.8" fill="url(#plb15)"/>
<rect x="129.7" y="87.5" width="9.4" height="13.8" fill="url(#plb15)"/>
<rect x="90.3" y="87.5" width="9.4" height="13.8" fill="url(#plb15)"/>
<rect x="178.5" y="73.7" width="9.4" height="13.8" fill="url(#plb15)"/>
<rect x="139.1" y="73.7" width="9.4" height="13.8" fill="url(#plb15)"/>
<rect x="227.3" y="87.5" width="9.4" height="13.8" fill="url(#plb15)"/>
<rect x="187.9" y="87.5" width="9.4" height="13.8" fill="url(#plb15)"/>
<rect x="276.1" y="73.7" width="9.4" height="13.8" fill="url(#plb15)"/>
<rect x="236.7" y="73.7" width="9.4" height="13.8" fill="url(#plb15)"/>
<rect x="324.9" y="87.5" width="9.4" height="13.8" fill="url(#plb15)"/>
<rect x="285.5" y="87.5" width="9.4" height="13.8" fill="url(#plb15)"/>
<rect x="373.7" y="73.7" width="9.4" height="13.8" fill="url(#plb15)"/>
<rect x="334.3" y="73.7" width="9.4" height="13.8" fill="url(#plb15)"/>
<rect x="422.5" y="87.5" width="9.4" height="13.8" fill="url(#plb15)"/>
<rect x="383.1" y="87.5" width="9.4" height="13.8" fill="url(#plb15)"/>
<rect x="471.3" y="73.7" width="9.4" height="13.8" fill="url(#plb15)"/>
<rect x="431.9" y="73.7" width="9.4" height="13.8" fill="url(#plb15)"/>
<rect x="520.1" y="87.5" width="9.4" height="13.8" fill="url(#plb15)"/>
<rect x="480.7" y="87.5" width="9.4" height="13.8" fill="url(#plb15)"/>
<rect x="529.5" y="73.7" width="8.1" height="13.8" fill="url(#plb15)"/>
<rect x="64.6" y="87.5" width="9.4" height="13.8" fill="url(#pdb15)"/>
<rect x="113.4" y="73.7" width="9.4" height="13.8" fill="url(#pdb15)"/>
<rect x="74.0" y="73.7" width="9.4" height="13.8" fill="url(#pdb15)"/>
<rect x="162.2" y="87.5" width="9.4" height="13.8" fill="url(#pdb15)"/>
<rect x="122.8" y="87.5" width="9.4" height="13.8" fill="url(#pdb15)"/>
<rect x="211.0" y="73.7" width="9.4" height="13.8" fill="url(#pdb15)"/>
<rect x="171.6" y="73.7" width="9.4" height="13.8" fill="url(#pdb15)"/>
<rect x="259.8" y="87.5" width="9.4" height="13.8" fill="url(#pdb15)"/>
<rect x="220.4" y="87.5" width="9.4" height="13.8" fill="url(#pdb15)"/>
<rect x="308.6" y="73.7" width="9.4" height="13.8" fill="url(#pdb15)"/>
<rect x="269.2" y="73.7" width="9.4" height="13.8" fill="url(#pdb15)"/>
<rect x="357.4" y="87.5" width="9.4" height="13.8" fill="url(#pdb15)"/>
<rect x="318.0" y="87.5" width="9.4" height="13.8" fill="url(#pdb15)"/>
<rect x="406.2" y="73.7" width="9.4" height="13.8" fill="url(#pdb15)"/>
<rect x="366.8" y="73.7" width="9.4" height="13.8" fill="url(#pdb15)"/>
<rect x="455.0" y="87.5" width="9.4" height="13.8" fill="url(#pdb15)"/>
<rect x="415.6" y="87.5" width="9.4" height="13.8" fill="url(#pdb15)"/>
<rect x="503.8" y="73.7" width="9.4" height="13.8" fill="url(#pdb15)"/>
<rect x="464.4" y="73.7" width="9.4" height="13.8" fill="url(#pdb15)"/>
<rect x="513.2" y="87.5" width="9.4" height="13.8" fill="url(#pdb15)"/>
<rect x="49.6" y="73.7" width="8.1" height="13.8" fill="url(#ppk15)"/>
<rect x="97.1" y="87.5" width="9.4" height="13.8" fill="url(#ppk15)"/>
<rect x="57.7" y="87.5" width="9.4" height="13.8" fill="url(#ppk15)"/>
<rect x="145.9" y="73.7" width="9.4" height="13.8" fill="url(#ppk15)"/>
<rect x="106.5" y="73.7" width="9.4" height="13.8" fill="url(#ppk15)"/>
<rect x="194.7" y="87.5" width="9.4" height="13.8" fill="url(#ppk15)"/>
<rect x="155.3" y="87.5" width="9.4" height="13.8" fill="url(#ppk15)"/>
<rect x="243.5" y="73.7" width="9.4" height="13.8" fill="url(#ppk15)"/>
<rect x="204.1" y="73.7" width="9.4" height="13.8" fill="url(#ppk15)"/>
<rect x="292.3" y="87.5" width="9.4" height="13.8" fill="url(#ppk15)"/>
<rect x="252.9" y="87.5" width="9.4" height="13.8" fill="url(#ppk15)"/>
<rect x="341.1" y="73.7" width="9.4" height="13.8" fill="url(#ppk15)"/>
<rect x="301.7" y="73.7" width="9.4" height="13.8" fill="url(#ppk15)"/>
<rect x="389.9" y="87.5" width="9.4" height="13.8" fill="url(#ppk15)"/>
<rect x="350.5" y="87.5" width="9.4" height="13.8" fill="url(#ppk15)"/>
<rect x="438.7" y="73.7" width="9.4" height="13.8" fill="url(#ppk15)"/>
<rect x="399.3" y="73.7" width="9.4" height="13.8" fill="url(#ppk15)"/>
<rect x="487.5" y="87.5" width="9.4" height="13.8" fill="url(#ppk15)"/>
<rect x="448.1" y="87.5" width="9.4" height="13.8" fill="url(#ppk15)"/>
<rect x="536.3" y="73.7" width="1.3" height="13.8" fill="url(#ppk15)"/>
<rect x="496.9" y="73.7" width="9.4" height="13.8" fill="url(#ppk15)"/>
<rect x="49.6" y="6.8" width="488.0" height="161.2" class="ax"/>
<line x1="49.6" y1="168.0" x2="49.6" y2="163.5" class="tk"/>
<line x1="49.6" y1="6.8" x2="49.6" y2="11.3" class="tk"/>
<line x1="98.4" y1="168.0" x2="98.4" y2="163.5" class="tk"/>
<line x1="98.4" y1="6.8" x2="98.4" y2="11.3" class="tk"/>
<line x1="147.2" y1="168.0" x2="147.2" y2="163.5" class="tk"/>
<line x1="147.2" y1="6.8" x2="147.2" y2="11.3" class="tk"/>
<line x1="196.0" y1="168.0" x2="196.0" y2="163.5" class="tk"/>
<line x1="196.0" y1="6.8" x2="196.0" y2="11.3" class="tk"/>
<line x1="244.8" y1="168.0" x2="244.8" y2="163.5" class="tk"/>
<line x1="244.8" y1="6.8" x2="244.8" y2="11.3" class="tk"/>
<line x1="293.6" y1="168.0" x2="293.6" y2="163.5" class="tk"/>
<line x1="293.6" y1="6.8" x2="293.6" y2="11.3" class="tk"/>
<line x1="342.4" y1="168.0" x2="342.4" y2="163.5" class="tk"/>
<line x1="342.4" y1="6.8" x2="342.4" y2="11.3" class="tk"/>
<line x1="391.2" y1="168.0" x2="391.2" y2="163.5" class="tk"/>
<line x1="391.2" y1="6.8" x2="391.2" y2="11.3" class="tk"/>
<line x1="440.0" y1="168.0" x2="440.0" y2="163.5" class="tk"/>
<line x1="440.0" y1="6.8" x2="440.0" y2="11.3" class="tk"/>
<line x1="488.8" y1="168.0" x2="488.8" y2="163.5" class="tk"/>
<line x1="488.8" y1="6.8" x2="488.8" y2="11.3" class="tk"/>
<line x1="537.6" y1="168.0" x2="537.6" y2="163.5" class="tk"/>
<line x1="537.6" y1="6.8" x2="537.6" y2="11.3" class="tk"/>
<line x1="49.6" y1="18.5" x2="54.1" y2="18.5" class="tk"/>
<line x1="537.6" y1="18.5" x2="533.1" y2="18.5" class="tk"/>
<line x1="49.6" y1="53.0" x2="54.1" y2="53.0" class="tk"/>
<line x1="537.6" y1="53.0" x2="533.1" y2="53.0" class="tk"/>
<line x1="49.6" y1="87.5" x2="54.1" y2="87.5" class="tk"/>
<line x1="537.6" y1="87.5" x2="533.1" y2="87.5" class="tk"/>
<line x1="49.6" y1="121.9" x2="54.1" y2="121.9" class="tk"/>
<line x1="537.6" y1="121.9" x2="533.1" y2="121.9" class="tk"/>
<line x1="49.6" y1="156.4" x2="54.1" y2="156.4" class="tk"/>
<line x1="537.6" y1="156.4" x2="533.1" y2="156.4" class="tk"/>
<line x1="99.4" y1="229.4" x2="99.4" y2="379.0" class="gv"/>
<line x1="148.2" y1="229.4" x2="148.2" y2="379.0" class="gv"/>
<line x1="197.0" y1="229.4" x2="197.0" y2="379.0" class="gv"/>
<line x1="245.8" y1="229.4" x2="245.8" y2="379.0" class="gv"/>
<line x1="294.6" y1="229.4" x2="294.6" y2="379.0" class="gv"/>
<line x1="343.4" y1="229.4" x2="343.4" y2="379.0" class="gv"/>
<line x1="392.2" y1="229.4" x2="392.2" y2="379.0" class="gv"/>
<line x1="441.0" y1="229.4" x2="441.0" y2="379.0" class="gv"/>
<line x1="489.8" y1="229.4" x2="489.8" y2="379.0" class="gv"/>
<line x1="50.6" y1="244.3" x2="538.6" y2="244.3" class="g"/>
<line x1="50.6" y1="274.6" x2="538.6" y2="274.6" class="g"/>
<line x1="50.6" y1="304.8" x2="538.6" y2="304.8" class="g"/>
<line x1="50.6" y1="335.1" x2="538.6" y2="335.1" class="g"/>
<line x1="50.6" y1="365.3" x2="538.6" y2="365.3" class="g"/>
<rect x="86.0" y="274.6" width="4.6" height="21.2" fill="url(#plb16)"/>
<rect x="59.4" y="274.6" width="4.6" height="21.2" fill="url(#plb16)"/>
<rect x="90.6" y="274.6" width="4.0" height="26.6" fill="url(#plb16)"/>
<rect x="55.4" y="274.6" width="4.0" height="26.6" fill="url(#plb16)"/>
<rect x="134.8" y="313.9" width="4.6" height="21.2" fill="url(#plb16)"/>
<rect x="108.2" y="313.9" width="4.6" height="21.2" fill="url(#plb16)"/>
<rect x="139.4" y="308.4" width="4.0" height="26.6" fill="url(#plb16)"/>
<rect x="104.2" y="308.4" width="4.0" height="26.6" fill="url(#plb16)"/>
<rect x="183.6" y="274.6" width="4.6" height="21.2" fill="url(#plb16)"/>
<rect x="157.0" y="274.6" width="4.6" height="21.2" fill="url(#plb16)"/>
<rect x="188.2" y="274.6" width="4.0" height="26.6" fill="url(#plb16)"/>
<rect x="153.0" y="274.6" width="4.0" height="26.6" fill="url(#plb16)"/>
<rect x="232.4" y="313.9" width="4.6" height="21.2" fill="url(#plb16)"/>
<rect x="205.8" y="313.9" width="4.6" height="21.2" fill="url(#plb16)"/>
<rect x="237.0" y="308.4" width="4.0" height="26.6" fill="url(#plb16)"/>
<rect x="201.8" y="308.4" width="4.0" height="26.6" fill="url(#plb16)"/>
<rect x="281.2" y="274.6" width="4.6" height="21.2" fill="url(#plb16)"/>
<rect x="254.6" y="274.6" width="4.6" height="21.2" fill="url(#plb16)"/>
<rect x="285.8" y="274.6" width="4.0" height="26.6" fill="url(#plb16)"/>
<rect x="250.6" y="274.6" width="4.0" height="26.6" fill="url(#plb16)"/>
<rect x="330.0" y="313.9" width="4.6" height="21.2" fill="url(#plb16)"/>
<rect x="303.4" y="313.9" width="4.6" height="21.2" fill="url(#plb16)"/>
<rect x="334.6" y="308.4" width="4.0" height="26.6" fill="url(#plb16)"/>
<rect x="299.4" y="308.4" width="4.0" height="26.6" fill="url(#plb16)"/>
<rect x="378.8" y="274.6" width="4.6" height="21.2" fill="url(#plb16)"/>
<rect x="352.2" y="274.6" width="4.6" height="21.2" fill="url(#plb16)"/>
<rect x="383.4" y="274.6" width="4.0" height="26.6" fill="url(#plb16)"/>
<rect x="348.2" y="274.6" width="4.0" height="26.6" fill="url(#plb16)"/>
<rect x="427.6" y="313.9" width="4.6" height="21.2" fill="url(#plb16)"/>
<rect x="401.0" y="313.9" width="4.6" height="21.2" fill="url(#plb16)"/>
<rect x="432.2" y="308.4" width="4.0" height="26.6" fill="url(#plb16)"/>
<rect x="397.0" y="308.4" width="4.0" height="26.6" fill="url(#plb16)"/>
<rect x="476.4" y="274.6" width="4.6" height="21.2" fill="url(#plb16)"/>
<rect x="449.8" y="274.6" width="4.6" height="21.2" fill="url(#plb16)"/>
<rect x="481.0" y="274.6" width="4.0" height="26.6" fill="url(#plb16)"/>
<rect x="445.8" y="274.6" width="4.0" height="26.6" fill="url(#plb16)"/>
<rect x="525.2" y="313.9" width="4.6" height="21.2" fill="url(#plb16)"/>
<rect x="498.6" y="313.9" width="4.6" height="21.2" fill="url(#plb16)"/>
<rect x="529.8" y="308.4" width="4.0" height="26.6" fill="url(#plb16)"/>
<rect x="494.6" y="308.4" width="4.0" height="26.6" fill="url(#plb16)"/>
<rect x="69.7" y="313.9" width="4.6" height="21.2" fill="url(#pdb16)"/>
<rect x="74.3" y="308.4" width="4.0" height="26.6" fill="url(#pdb16)"/>
<rect x="118.5" y="274.6" width="4.6" height="21.2" fill="url(#pdb16)"/>
<rect x="91.9" y="274.6" width="4.6" height="21.2" fill="url(#pdb16)"/>
<rect x="123.1" y="274.6" width="4.0" height="26.6" fill="url(#pdb16)"/>
<rect x="87.9" y="274.6" width="4.0" height="26.6" fill="url(#pdb16)"/>
<rect x="167.3" y="313.9" width="4.6" height="21.2" fill="url(#pdb16)"/>
<rect x="140.7" y="313.9" width="4.6" height="21.2" fill="url(#pdb16)"/>
<rect x="171.9" y="308.4" width="4.0" height="26.6" fill="url(#pdb16)"/>
<rect x="136.7" y="308.4" width="4.0" height="26.6" fill="url(#pdb16)"/>
<rect x="216.1" y="274.6" width="4.6" height="21.2" fill="url(#pdb16)"/>
<rect x="189.5" y="274.6" width="4.6" height="21.2" fill="url(#pdb16)"/>
<rect x="220.7" y="274.6" width="4.0" height="26.6" fill="url(#pdb16)"/>
<rect x="185.5" y="274.6" width="4.0" height="26.6" fill="url(#pdb16)"/>
<rect x="264.9" y="313.9" width="4.6" height="21.2" fill="url(#pdb16)"/>
<rect x="238.3" y="313.9" width="4.6" height="21.2" fill="url(#pdb16)"/>
<rect x="269.5" y="308.4" width="4.0" height="26.6" fill="url(#pdb16)"/>
<rect x="234.3" y="308.4" width="4.0" height="26.6" fill="url(#pdb16)"/>
<rect x="313.7" y="274.6" width="4.6" height="21.2" fill="url(#pdb16)"/>
<rect x="287.1" y="274.6" width="4.6" height="21.2" fill="url(#pdb16)"/>
<rect x="318.3" y="274.6" width="4.0" height="26.6" fill="url(#pdb16)"/>
<rect x="283.1" y="274.6" width="4.0" height="26.6" fill="url(#pdb16)"/>
<rect x="362.5" y="313.9" width="4.6" height="21.2" fill="url(#pdb16)"/>
<rect x="335.9" y="313.9" width="4.6" height="21.2" fill="url(#pdb16)"/>
<rect x="367.1" y="308.4" width="4.0" height="26.6" fill="url(#pdb16)"/>
<rect x="331.9" y="308.4" width="4.0" height="26.6" fill="url(#pdb16)"/>
<rect x="411.3" y="274.6" width="4.6" height="21.2" fill="url(#pdb16)"/>
<rect x="384.7" y="274.6" width="4.6" height="21.2" fill="url(#pdb16)"/>
<rect x="415.9" y="274.6" width="4.0" height="26.6" fill="url(#pdb16)"/>
<rect x="380.7" y="274.6" width="4.0" height="26.6" fill="url(#pdb16)"/>
<rect x="460.1" y="313.9" width="4.6" height="21.2" fill="url(#pdb16)"/>
<rect x="433.5" y="313.9" width="4.6" height="21.2" fill="url(#pdb16)"/>
<rect x="464.7" y="308.4" width="4.0" height="26.6" fill="url(#pdb16)"/>
<rect x="429.5" y="308.4" width="4.0" height="26.6" fill="url(#pdb16)"/>
<rect x="508.9" y="274.6" width="4.6" height="21.2" fill="url(#pdb16)"/>
<rect x="482.3" y="274.6" width="4.6" height="21.2" fill="url(#pdb16)"/>
<rect x="513.5" y="274.6" width="4.0" height="26.6" fill="url(#pdb16)"/>
<rect x="478.3" y="274.6" width="4.0" height="26.6" fill="url(#pdb16)"/>
<rect x="531.1" y="313.9" width="4.6" height="21.2" fill="url(#pdb16)"/>
<rect x="527.1" y="308.4" width="4.0" height="26.6" fill="url(#pdb16)"/>
<rect x="53.5" y="274.6" width="4.6" height="21.2" fill="url(#ppk16)"/>
<rect x="58.1" y="274.6" width="4.0" height="26.6" fill="url(#ppk16)"/>
<rect x="102.3" y="313.9" width="4.6" height="21.2" fill="url(#ppk16)"/>
<rect x="75.7" y="313.9" width="4.6" height="21.2" fill="url(#ppk16)"/>
<rect x="106.9" y="308.4" width="4.0" height="26.6" fill="url(#ppk16)"/>
<rect x="71.7" y="308.4" width="4.0" height="26.6" fill="url(#ppk16)"/>
<rect x="151.1" y="274.6" width="4.6" height="21.2" fill="url(#ppk16)"/>
<rect x="124.5" y="274.6" width="4.6" height="21.2" fill="url(#ppk16)"/>
<rect x="155.7" y="274.6" width="4.0" height="26.6" fill="url(#ppk16)"/>
<rect x="120.5" y="274.6" width="4.0" height="26.6" fill="url(#ppk16)"/>
<rect x="199.9" y="313.9" width="4.6" height="21.2" fill="url(#ppk16)"/>
<rect x="173.3" y="313.9" width="4.6" height="21.2" fill="url(#ppk16)"/>
<rect x="204.5" y="308.4" width="4.0" height="26.6" fill="url(#ppk16)"/>
<rect x="169.3" y="308.4" width="4.0" height="26.6" fill="url(#ppk16)"/>
<rect x="248.7" y="274.6" width="4.6" height="21.2" fill="url(#ppk16)"/>
<rect x="222.1" y="274.6" width="4.6" height="21.2" fill="url(#ppk16)"/>
<rect x="253.3" y="274.6" width="4.0" height="26.6" fill="url(#ppk16)"/>
<rect x="218.1" y="274.6" width="4.0" height="26.6" fill="url(#ppk16)"/>
<rect x="297.5" y="313.9" width="4.6" height="21.2" fill="url(#ppk16)"/>
<rect x="270.9" y="313.9" width="4.6" height="21.2" fill="url(#ppk16)"/>
<rect x="302.1" y="308.4" width="4.0" height="26.6" fill="url(#ppk16)"/>
<rect x="266.9" y="308.4" width="4.0" height="26.6" fill="url(#ppk16)"/>
<rect x="346.3" y="274.6" width="4.6" height="21.2" fill="url(#ppk16)"/>
<rect x="319.7" y="274.6" width="4.6" height="21.2" fill="url(#ppk16)"/>
<rect x="350.9" y="274.6" width="4.0" height="26.6" fill="url(#ppk16)"/>
<rect x="315.7" y="274.6" width="4.0" height="26.6" fill="url(#ppk16)"/>
<rect x="395.1" y="313.9" width="4.6" height="21.2" fill="url(#ppk16)"/>
<rect x="368.5" y="313.9" width="4.6" height="21.2" fill="url(#ppk16)"/>
<rect x="399.7" y="308.4" width="4.0" height="26.6" fill="url(#ppk16)"/>
<rect x="364.5" y="308.4" width="4.0" height="26.6" fill="url(#ppk16)"/>
<rect x="443.9" y="274.6" width="4.6" height="21.2" fill="url(#ppk16)"/>
<rect x="417.3" y="274.6" width="4.6" height="21.2" fill="url(#ppk16)"/>
<rect x="448.5" y="274.6" width="4.0" height="26.6" fill="url(#ppk16)"/>
<rect x="413.3" y="274.6" width="4.0" height="26.6" fill="url(#ppk16)"/>
<rect x="492.7" y="313.9" width="4.6" height="21.2" fill="url(#ppk16)"/>
<rect x="466.1" y="313.9" width="4.6" height="21.2" fill="url(#ppk16)"/>
<rect x="497.3" y="308.4" width="4.0" height="26.6" fill="url(#ppk16)"/>
<rect x="462.1" y="308.4" width="4.0" height="26.6" fill="url(#ppk16)"/>
<rect x="514.9" y="274.6" width="4.6" height="21.2" fill="url(#ppk16)"/>
<rect x="510.9" y="274.6" width="4.0" height="26.6" fill="url(#ppk16)"/>
<rect x="75.0" y="244.3" width="6.7" height="12.7" fill="url(#plb14)"/>
<rect x="68.3" y="244.3" width="6.7" height="12.7" fill="url(#plb14)"/>
<rect x="75.0" y="257.0" width="9.2" height="11.5" fill="url(#plb16)"/>
<rect x="65.8" y="257.0" width="9.2" height="11.5" fill="url(#plb16)"/>
<rect x="75.0" y="268.5" width="2.3" height="7.6" fill="url(#plb10)"/>
<rect x="72.7" y="268.5" width="2.3" height="7.6" fill="url(#plb10)"/>
<rect x="81.7" y="267.0" width="3.9" height="8.8" fill="url(#plb18)"/>
<rect x="64.4" y="267.0" width="3.9" height="8.8" fill="url(#plb18)"/>
<rect x="84.2" y="257.6" width="1.8" height="18.1" fill="url(#plb15)"/>
<rect x="64.0" y="257.6" width="1.8" height="18.1" fill="url(#plb15)"/>
<rect x="86.0" y="258.8" width="2.6" height="16.6" fill="url(#plb12)"/>
<rect x="61.4" y="258.8" width="2.6" height="16.6" fill="url(#plb12)"/>
<rect x="123.8" y="352.6" width="6.7" height="12.7" fill="url(#plb14)"/>
<rect x="117.1" y="352.6" width="6.7" height="12.7" fill="url(#plb14)"/>
<rect x="123.8" y="341.1" width="9.2" height="11.5" fill="url(#plb16)"/>
<rect x="114.6" y="341.1" width="9.2" height="11.5" fill="url(#plb16)"/>
<rect x="123.8" y="333.5" width="2.3" height="7.6" fill="url(#plb10)"/>
<rect x="121.5" y="333.5" width="2.3" height="7.6" fill="url(#plb10)"/>
<rect x="130.5" y="333.8" width="3.9" height="8.8" fill="url(#plb18)"/>
<rect x="113.2" y="333.8" width="3.9" height="8.8" fill="url(#plb18)"/>
<rect x="133.0" y="333.8" width="1.8" height="18.1" fill="url(#plb15)"/>
<rect x="112.8" y="333.8" width="1.8" height="18.1" fill="url(#plb15)"/>
<rect x="134.8" y="334.1" width="2.6" height="16.6" fill="url(#plb12)"/>
<rect x="110.2" y="334.1" width="2.6" height="16.6" fill="url(#plb12)"/>
<rect x="172.6" y="244.3" width="6.7" height="12.7" fill="url(#plb14)"/>
<rect x="165.9" y="244.3" width="6.7" height="12.7" fill="url(#plb14)"/>
<rect x="172.6" y="257.0" width="9.2" height="11.5" fill="url(#plb16)"/>
<rect x="163.4" y="257.0" width="9.2" height="11.5" fill="url(#plb16)"/>
<rect x="172.6" y="268.5" width="2.3" height="7.6" fill="url(#plb10)"/>
<rect x="170.3" y="268.5" width="2.3" height="7.6" fill="url(#plb10)"/>
<rect x="179.3" y="267.0" width="3.9" height="8.8" fill="url(#plb18)"/>
<rect x="162.0" y="267.0" width="3.9" height="8.8" fill="url(#plb18)"/>
<rect x="181.8" y="257.6" width="1.8" height="18.1" fill="url(#plb15)"/>
<rect x="161.6" y="257.6" width="1.8" height="18.1" fill="url(#plb15)"/>
<rect x="183.6" y="258.8" width="2.6" height="16.6" fill="url(#plb12)"/>
<rect x="159.0" y="258.8" width="2.6" height="16.6" fill="url(#plb12)"/>
<rect x="221.4" y="352.6" width="6.7" height="12.7" fill="url(#plb14)"/>
<rect x="214.7" y="352.6" width="6.7" height="12.7" fill="url(#plb14)"/>
<rect x="221.4" y="341.1" width="9.2" height="11.5" fill="url(#plb16)"/>
<rect x="212.2" y="341.1" width="9.2" height="11.5" fill="url(#plb16)"/>
<rect x="221.4" y="333.5" width="2.3" height="7.6" fill="url(#plb10)"/>
<rect x="219.1" y="333.5" width="2.3" height="7.6" fill="url(#plb10)"/>
<rect x="228.1" y="333.8" width="3.9" height="8.8" fill="url(#plb18)"/>
<rect x="210.8" y="333.8" width="3.9" height="8.8" fill="url(#plb18)"/>
<rect x="230.6" y="333.8" width="1.8" height="18.1" fill="url(#plb15)"/>
<rect x="210.4" y="333.8" width="1.8" height="18.1" fill="url(#plb15)"/>
<rect x="232.4" y="334.1" width="2.6" height="16.6" fill="url(#plb12)"/>
<rect x="207.8" y="334.1" width="2.6" height="16.6" fill="url(#plb12)"/>
<rect x="270.2" y="244.3" width="6.7" height="12.7" fill="url(#plb14)"/>
<rect x="263.5" y="244.3" width="6.7" height="12.7" fill="url(#plb14)"/>
<rect x="270.2" y="257.0" width="9.2" height="11.5" fill="url(#plb16)"/>
<rect x="261.0" y="257.0" width="9.2" height="11.5" fill="url(#plb16)"/>
<rect x="270.2" y="268.5" width="2.3" height="7.6" fill="url(#plb10)"/>
<rect x="267.9" y="268.5" width="2.3" height="7.6" fill="url(#plb10)"/>
<rect x="276.9" y="267.0" width="3.9" height="8.8" fill="url(#plb18)"/>
<rect x="259.6" y="267.0" width="3.9" height="8.8" fill="url(#plb18)"/>
<rect x="279.4" y="257.6" width="1.8" height="18.1" fill="url(#plb15)"/>
<rect x="259.2" y="257.6" width="1.8" height="18.1" fill="url(#plb15)"/>
<rect x="281.2" y="258.8" width="2.6" height="16.6" fill="url(#plb12)"/>
<rect x="256.6" y="258.8" width="2.6" height="16.6" fill="url(#plb12)"/>
<rect x="319.0" y="352.6" width="6.7" height="12.7" fill="url(#plb14)"/>
<rect x="312.3" y="352.6" width="6.7" height="12.7" fill="url(#plb14)"/>
<rect x="319.0" y="341.1" width="9.2" height="11.5" fill="url(#plb16)"/>
<rect x="309.8" y="341.1" width="9.2" height="11.5" fill="url(#plb16)"/>
<rect x="319.0" y="333.5" width="2.3" height="7.6" fill="url(#plb10)"/>
<rect x="316.7" y="333.5" width="2.3" height="7.6" fill="url(#plb10)"/>
<rect x="325.7" y="333.8" width="3.9" height="8.8" fill="url(#plb18)"/>
<rect x="308.4" y="333.8" width="3.9" height="8.8" fill="url(#plb18)"/>
<rect x="328.2" y="333.8" width="1.8" height="18.1" fill="url(#plb15)"/>
<rect x="308.0" y="333.8" width="1.8" height="18.1" fill="url(#plb15)"/>
<rect x="330.0" y="334.1" width="2.6" height="16.6" fill="url(#plb12)"/>
<rect x="305.4" y="334.1" width="2.6" height="16.6" fill="url(#plb12)"/>
<rect x="367.8" y="244.3" width="6.7" height="12.7" fill="url(#plb14)"/>
<rect x="361.1" y="244.3" width="6.7" height="12.7" fill="url(#plb14)"/>
<rect x="367.8" y="257.0" width="9.2" height="11.5" fill="url(#plb16)"/>
<rect x="358.6" y="257.0" width="9.2" height="11.5" fill="url(#plb16)"/>
<rect x="367.8" y="268.5" width="2.3" height="7.6" fill="url(#plb10)"/>
<rect x="365.5" y="268.5" width="2.3" height="7.6" fill="url(#plb10)"/>
<rect x="374.5" y="267.0" width="3.9" height="8.8" fill="url(#plb18)"/>
<rect x="357.2" y="267.0" width="3.9" height="8.8" fill="url(#plb18)"/>
<rect x="377.0" y="257.6" width="1.8" height="18.1" fill="url(#plb15)"/>
<rect x="356.8" y="257.6" width="1.8" height="18.1" fill="url(#plb15)"/>
<rect x="378.8" y="258.8" width="2.6" height="16.6" fill="url(#plb12)"/>
<rect x="354.2" y="258.8" width="2.6" height="16.6" fill="url(#plb12)"/>
<rect x="416.6" y="352.6" width="6.7" height="12.7" fill="url(#plb14)"/>
<rect x="409.9" y="352.6" width="6.7" height="12.7" fill="url(#plb14)"/>
<rect x="416.6" y="341.1" width="9.2" height="11.5" fill="url(#plb16)"/>
<rect x="407.4" y="341.1" width="9.2" height="11.5" fill="url(#plb16)"/>
<rect x="416.6" y="333.5" width="2.3" height="7.6" fill="url(#plb10)"/>
<rect x="414.3" y="333.5" width="2.3" height="7.6" fill="url(#plb10)"/>
<rect x="423.3" y="333.8" width="3.9" height="8.8" fill="url(#plb18)"/>
<rect x="406.0" y="333.8" width="3.9" height="8.8" fill="url(#plb18)"/>
<rect x="425.8" y="333.8" width="1.8" height="18.1" fill="url(#plb15)"/>
<rect x="405.6" y="333.8" width="1.8" height="18.1" fill="url(#plb15)"/>
<rect x="427.6" y="334.1" width="2.6" height="16.6" fill="url(#plb12)"/>
<rect x="403.0" y="334.1" width="2.6" height="16.6" fill="url(#plb12)"/>
<rect x="465.4" y="244.3" width="6.7" height="12.7" fill="url(#plb14)"/>
<rect x="458.7" y="244.3" width="6.7" height="12.7" fill="url(#plb14)"/>
<rect x="465.4" y="257.0" width="9.2" height="11.5" fill="url(#plb16)"/>
<rect x="456.2" y="257.0" width="9.2" height="11.5" fill="url(#plb16)"/>
<rect x="465.4" y="268.5" width="2.3" height="7.6" fill="url(#plb10)"/>
<rect x="463.1" y="268.5" width="2.3" height="7.6" fill="url(#plb10)"/>
<rect x="472.1" y="267.0" width="3.9" height="8.8" fill="url(#plb18)"/>
<rect x="454.8" y="267.0" width="3.9" height="8.8" fill="url(#plb18)"/>
<rect x="474.6" y="257.6" width="1.8" height="18.1" fill="url(#plb15)"/>
<rect x="454.4" y="257.6" width="1.8" height="18.1" fill="url(#plb15)"/>
<rect x="476.4" y="258.8" width="2.6" height="16.6" fill="url(#plb12)"/>
<rect x="451.8" y="258.8" width="2.6" height="16.6" fill="url(#plb12)"/>
<rect x="514.2" y="352.6" width="6.7" height="12.7" fill="url(#plb14)"/>
<rect x="507.5" y="352.6" width="6.7" height="12.7" fill="url(#plb14)"/>
<rect x="514.2" y="341.1" width="9.2" height="11.5" fill="url(#plb16)"/>
<rect x="505.0" y="341.1" width="9.2" height="11.5" fill="url(#plb16)"/>
<rect x="514.2" y="333.5" width="2.3" height="7.6" fill="url(#plb10)"/>
<rect x="511.9" y="333.5" width="2.3" height="7.6" fill="url(#plb10)"/>
<rect x="520.9" y="333.8" width="3.9" height="8.8" fill="url(#plb18)"/>
<rect x="503.6" y="333.8" width="3.9" height="8.8" fill="url(#plb18)"/>
<rect x="523.4" y="333.8" width="1.8" height="18.1" fill="url(#plb15)"/>
<rect x="503.2" y="333.8" width="1.8" height="18.1" fill="url(#plb15)"/>
<rect x="525.2" y="334.1" width="2.6" height="16.6" fill="url(#plb12)"/>
<rect x="500.6" y="334.1" width="2.6" height="16.6" fill="url(#plb12)"/>
<rect x="58.7" y="352.6" width="6.7" height="12.7" fill="url(#pdb14)"/>
<rect x="52.0" y="352.6" width="6.7" height="12.7" fill="url(#pdb14)"/>
<rect x="58.7" y="341.1" width="9.2" height="11.5" fill="url(#pdb16)"/>
<rect x="50.6" y="341.1" width="8.1" height="11.5" fill="url(#pdb16)"/>
<rect x="58.7" y="333.5" width="2.3" height="7.6" fill="url(#pdb10)"/>
<rect x="56.4" y="333.5" width="2.3" height="7.6" fill="url(#pdb10)"/>
<rect x="65.4" y="333.8" width="3.9" height="8.8" fill="url(#pdb18)"/>
<rect x="50.6" y="333.8" width="1.4" height="8.8" fill="url(#pdb18)"/>
<rect x="67.9" y="333.8" width="1.8" height="18.1" fill="url(#pdb15)"/>
<rect x="69.7" y="334.1" width="2.6" height="16.6" fill="url(#pdb12)"/>
<rect x="107.5" y="244.3" width="6.7" height="12.7" fill="url(#pdb14)"/>
<rect x="100.8" y="244.3" width="6.7" height="12.7" fill="url(#pdb14)"/>
<rect x="107.5" y="257.0" width="9.2" height="11.5" fill="url(#pdb16)"/>
<rect x="98.3" y="257.0" width="9.2" height="11.5" fill="url(#pdb16)"/>
<rect x="107.5" y="268.5" width="2.3" height="7.6" fill="url(#pdb10)"/>
<rect x="105.2" y="268.5" width="2.3" height="7.6" fill="url(#pdb10)"/>
<rect x="114.2" y="267.0" width="3.9" height="8.8" fill="url(#pdb18)"/>
<rect x="96.9" y="267.0" width="3.9" height="8.8" fill="url(#pdb18)"/>
<rect x="116.7" y="257.6" width="1.8" height="18.1" fill="url(#pdb15)"/>
<rect x="96.5" y="257.6" width="1.8" height="18.1" fill="url(#pdb15)"/>
<rect x="118.5" y="258.8" width="2.6" height="16.6" fill="url(#pdb12)"/>
<rect x="93.9" y="258.8" width="2.6" height="16.6" fill="url(#pdb12)"/>
<rect x="156.3" y="352.6" width="6.7" height="12.7" fill="url(#pdb14)"/>
<rect x="149.6" y="352.6" width="6.7" height="12.7" fill="url(#pdb14)"/>
<rect x="156.3" y="341.1" width="9.2" height="11.5" fill="url(#pdb16)"/>
<rect x="147.1" y="341.1" width="9.2" height="11.5" fill="url(#pdb16)"/>
<rect x="156.3" y="333.5" width="2.3" height="7.6" fill="url(#pdb10)"/>
<rect x="154.0" y="333.5" width="2.3" height="7.6" fill="url(#pdb10)"/>
<rect x="163.0" y="333.8" width="3.9" height="8.8" fill="url(#pdb18)"/>
<rect x="145.7" y="333.8" width="3.9" height="8.8" fill="url(#pdb18)"/>
<rect x="165.5" y="333.8" width="1.8" height="18.1" fill="url(#pdb15)"/>
<rect x="145.3" y="333.8" width="1.8" height="18.1" fill="url(#pdb15)"/>
<rect x="167.3" y="334.1" width="2.6" height="16.6" fill="url(#pdb12)"/>
<rect x="142.7" y="334.1" width="2.6" height="16.6" fill="url(#pdb12)"/>
<rect x="205.1" y="244.3" width="6.7" height="12.7" fill="url(#pdb14)"/>
<rect x="198.4" y="244.3" width="6.7" height="12.7" fill="url(#pdb14)"/>
<rect x="205.1" y="257.0" width="9.2" height="11.5" fill="url(#pdb16)"/>
<rect x="195.9" y="257.0" width="9.2" height="11.5" fill="url(#pdb16)"/>
<rect x="205.1" y="268.5" width="2.3" height="7.6" fill="url(#pdb10)"/>
<rect x="202.8" y="268.5" width="2.3" height="7.6" fill="url(#pdb10)"/>
<rect x="211.8" y="267.0" width="3.9" height="8.8" fill="url(#pdb18)"/>
<rect x="194.5" y="267.0" width="3.9" height="8.8" fill="url(#pdb18)"/>
<rect x="214.3" y="257.6" width="1.8" height="18.1" fill="url(#pdb15)"/>
<rect x="194.1" y="257.6" width="1.8" height="18.1" fill="url(#pdb15)"/>
<rect x="216.1" y="258.8" width="2.6" height="16.6" fill="url(#pdb12)"/>
<rect x="191.5" y="258.8" width="2.6" height="16.6" fill="url(#pdb12)"/>
<rect x="253.9" y="352.6" width="6.7" height="12.7" fill="url(#pdb14)"/>
<rect x="247.2" y="352.6" width="6.7" height="12.7" fill="url(#pdb14)"/>
<rect x="253.9" y="341.1" width="9.2" height="11.5" fill="url(#pdb16)"/>
<rect x="244.7" y="341.1" width="9.2" height="11.5" fill="url(#pdb16)"/>
<rect x="253.9" y="333.5" width="2.3" height="7.6" fill="url(#pdb10)"/>
<rect x="251.6" y="333.5" width="2.3" height="7.6" fill="url(#pdb10)"/>
<rect x="260.6" y="333.8" width="3.9" height="8.8" fill="url(#pdb18)"/>
<rect x="243.3" y="333.8" width="3.9" height="8.8" fill="url(#pdb18)"/>
<rect x="263.1" y="333.8" width="1.8" height="18.1" fill="url(#pdb15)"/>
<rect x="242.9" y="333.8" width="1.8" height="18.1" fill="url(#pdb15)"/>
<rect x="264.9" y="334.1" width="2.6" height="16.6" fill="url(#pdb12)"/>
<rect x="240.3" y="334.1" width="2.6" height="16.6" fill="url(#pdb12)"/>
<rect x="302.7" y="244.3" width="6.7" height="12.7" fill="url(#pdb14)"/>
<rect x="296.0" y="244.3" width="6.7" height="12.7" fill="url(#pdb14)"/>
<rect x="302.7" y="257.0" width="9.2" height="11.5" fill="url(#pdb16)"/>
<rect x="293.5" y="257.0" width="9.2" height="11.5" fill="url(#pdb16)"/>
<rect x="302.7" y="268.5" width="2.3" height="7.6" fill="url(#pdb10)"/>
<rect x="300.4" y="268.5" width="2.3" height="7.6" fill="url(#pdb10)"/>
<rect x="309.4" y="267.0" width="3.9" height="8.8" fill="url(#pdb18)"/>
<rect x="292.1" y="267.0" width="3.9" height="8.8" fill="url(#pdb18)"/>
<rect x="311.9" y="257.6" width="1.8" height="18.1" fill="url(#pdb15)"/>
<rect x="291.7" y="257.6" width="1.8" height="18.1" fill="url(#pdb15)"/>
<rect x="313.7" y="258.8" width="2.6" height="16.6" fill="url(#pdb12)"/>
<rect x="289.1" y="258.8" width="2.6" height="16.6" fill="url(#pdb12)"/>
<rect x="351.5" y="352.6" width="6.7" height="12.7" fill="url(#pdb14)"/>
<rect x="344.8" y="352.6" width="6.7" height="12.7" fill="url(#pdb14)"/>
<rect x="351.5" y="341.1" width="9.2" height="11.5" fill="url(#pdb16)"/>
<rect x="342.3" y="341.1" width="9.2" height="11.5" fill="url(#pdb16)"/>
<rect x="351.5" y="333.5" width="2.3" height="7.6" fill="url(#pdb10)"/>
<rect x="349.2" y="333.5" width="2.3" height="7.6" fill="url(#pdb10)"/>
<rect x="358.2" y="333.8" width="3.9" height="8.8" fill="url(#pdb18)"/>
<rect x="340.9" y="333.8" width="3.9" height="8.8" fill="url(#pdb18)"/>
<rect x="360.7" y="333.8" width="1.8" height="18.1" fill="url(#pdb15)"/>
<rect x="340.5" y="333.8" width="1.8" height="18.1" fill="url(#pdb15)"/>
<rect x="362.5" y="334.1" width="2.6" height="16.6" fill="url(#pdb12)"/>
<rect x="337.9" y="334.1" width="2.6" height="16.6" fill="url(#pdb12)"/>
<rect x="400.3" y="244.3" width="6.7" height="12.7" fill="url(#pdb14)"/>
<rect x="393.6" y="244.3" width="6.7" height="12.7" fill="url(#pdb14)"/>
<rect x="400.3" y="257.0" width="9.2" height="11.5" fill="url(#pdb16)"/>
<rect x="391.1" y="257.0" width="9.2" height="11.5" fill="url(#pdb16)"/>
<rect x="400.3" y="268.5" width="2.3" height="7.6" fill="url(#pdb10)"/>
<rect x="398.0" y="268.5" width="2.3" height="7.6" fill="url(#pdb10)"/>
<rect x="407.0" y="267.0" width="3.9" height="8.8" fill="url(#pdb18)"/>
<rect x="389.7" y="267.0" width="3.9" height="8.8" fill="url(#pdb18)"/>
<rect x="409.5" y="257.6" width="1.8" height="18.1" fill="url(#pdb15)"/>
<rect x="389.3" y="257.6" width="1.8" height="18.1" fill="url(#pdb15)"/>
<rect x="411.3" y="258.8" width="2.6" height="16.6" fill="url(#pdb12)"/>
<rect x="386.7" y="258.8" width="2.6" height="16.6" fill="url(#pdb12)"/>
<rect x="449.1" y="352.6" width="6.7" height="12.7" fill="url(#pdb14)"/>
<rect x="442.4" y="352.6" width="6.7" height="12.7" fill="url(#pdb14)"/>
<rect x="449.1" y="341.1" width="9.2" height="11.5" fill="url(#pdb16)"/>
<rect x="439.9" y="341.1" width="9.2" height="11.5" fill="url(#pdb16)"/>
<rect x="449.1" y="333.5" width="2.3" height="7.6" fill="url(#pdb10)"/>
<rect x="446.8" y="333.5" width="2.3" height="7.6" fill="url(#pdb10)"/>
<rect x="455.8" y="333.8" width="3.9" height="8.8" fill="url(#pdb18)"/>
<rect x="438.5" y="333.8" width="3.9" height="8.8" fill="url(#pdb18)"/>
<rect x="458.3" y="333.8" width="1.8" height="18.1" fill="url(#pdb15)"/>
<rect x="438.1" y="333.8" width="1.8" height="18.1" fill="url(#pdb15)"/>
<rect x="460.1" y="334.1" width="2.6" height="16.6" fill="url(#pdb12)"/>
<rect x="435.5" y="334.1" width="2.6" height="16.6" fill="url(#pdb12)"/>
<rect x="497.9" y="244.3" width="6.7" height="12.7" fill="url(#pdb14)"/>
<rect x="491.2" y="244.3" width="6.7" height="12.7" fill="url(#pdb14)"/>
<rect x="497.9" y="257.0" width="9.2" height="11.5" fill="url(#pdb16)"/>
<rect x="488.7" y="257.0" width="9.2" height="11.5" fill="url(#pdb16)"/>
<rect x="497.9" y="268.5" width="2.3" height="7.6" fill="url(#pdb10)"/>
<rect x="495.6" y="268.5" width="2.3" height="7.6" fill="url(#pdb10)"/>
<rect x="504.6" y="267.0" width="3.9" height="8.8" fill="url(#pdb18)"/>
<rect x="487.3" y="267.0" width="3.9" height="8.8" fill="url(#pdb18)"/>
<rect x="507.1" y="257.6" width="1.8" height="18.1" fill="url(#pdb15)"/>
<rect x="486.9" y="257.6" width="1.8" height="18.1" fill="url(#pdb15)"/>
<rect x="508.9" y="258.8" width="2.6" height="16.6" fill="url(#pdb12)"/>
<rect x="484.3" y="258.8" width="2.6" height="16.6" fill="url(#pdb12)"/>
<rect x="537.5" y="341.1" width="1.1" height="11.5" fill="url(#pdb16)"/>
<rect x="536.1" y="333.8" width="2.5" height="8.8" fill="url(#pdb18)"/>
<rect x="535.7" y="333.8" width="1.8" height="18.1" fill="url(#pdb15)"/>
<rect x="533.1" y="334.1" width="2.6" height="16.6" fill="url(#pdb12)"/>
<rect x="50.6" y="257.0" width="1.1" height="11.5" fill="url(#ppk16)"/>
<rect x="50.6" y="267.0" width="2.5" height="8.8" fill="url(#ppk18)"/>
<rect x="51.7" y="257.6" width="1.8" height="18.1" fill="url(#ppk15)"/>
<rect x="53.5" y="258.8" width="2.6" height="16.6" fill="url(#ppk12)"/>
<rect x="91.3" y="352.6" width="6.7" height="12.7" fill="url(#ppk14)"/>
<rect x="84.6" y="352.6" width="6.7" height="12.7" fill="url(#ppk14)"/>
<rect x="91.3" y="341.1" width="9.2" height="11.5" fill="url(#ppk16)"/>
<rect x="82.1" y="341.1" width="9.2" height="11.5" fill="url(#ppk16)"/>
<rect x="91.3" y="333.5" width="2.3" height="7.6" fill="url(#ppk10)"/>
<rect x="89.0" y="333.5" width="2.3" height="7.6" fill="url(#ppk10)"/>
<rect x="98.0" y="333.8" width="3.9" height="8.8" fill="url(#ppk18)"/>
<rect x="80.7" y="333.8" width="3.9" height="8.8" fill="url(#ppk18)"/>
<rect x="100.5" y="333.8" width="1.8" height="18.1" fill="url(#ppk15)"/>
<rect x="80.3" y="333.8" width="1.8" height="18.1" fill="url(#ppk15)"/>
<rect x="102.3" y="334.1" width="2.6" height="16.6" fill="url(#ppk12)"/>
<rect x="77.7" y="334.1" width="2.6" height="16.6" fill="url(#ppk12)"/>
<rect x="140.1" y="244.3" width="6.7" height="12.7" fill="url(#ppk14)"/>
<rect x="133.4" y="244.3" width="6.7" height="12.7" fill="url(#ppk14)"/>
<rect x="140.1" y="257.0" width="9.2" height="11.5" fill="url(#ppk16)"/>
<rect x="130.9" y="257.0" width="9.2" height="11.5" fill="url(#ppk16)"/>
<rect x="140.1" y="268.5" width="2.3" height="7.6" fill="url(#ppk10)"/>
<rect x="137.8" y="268.5" width="2.3" height="7.6" fill="url(#ppk10)"/>
<rect x="146.8" y="267.0" width="3.9" height="8.8" fill="url(#ppk18)"/>
<rect x="129.5" y="267.0" width="3.9" height="8.8" fill="url(#ppk18)"/>
<rect x="149.3" y="257.6" width="1.8" height="18.1" fill="url(#ppk15)"/>
<rect x="129.1" y="257.6" width="1.8" height="18.1" fill="url(#ppk15)"/>
<rect x="151.1" y="258.8" width="2.6" height="16.6" fill="url(#ppk12)"/>
<rect x="126.5" y="258.8" width="2.6" height="16.6" fill="url(#ppk12)"/>
<rect x="188.9" y="352.6" width="6.7" height="12.7" fill="url(#ppk14)"/>
<rect x="182.2" y="352.6" width="6.7" height="12.7" fill="url(#ppk14)"/>
<rect x="188.9" y="341.1" width="9.2" height="11.5" fill="url(#ppk16)"/>
<rect x="179.7" y="341.1" width="9.2" height="11.5" fill="url(#ppk16)"/>
<rect x="188.9" y="333.5" width="2.3" height="7.6" fill="url(#ppk10)"/>
<rect x="186.6" y="333.5" width="2.3" height="7.6" fill="url(#ppk10)"/>
<rect x="195.6" y="333.8" width="3.9" height="8.8" fill="url(#ppk18)"/>
<rect x="178.3" y="333.8" width="3.9" height="8.8" fill="url(#ppk18)"/>
<rect x="198.1" y="333.8" width="1.8" height="18.1" fill="url(#ppk15)"/>
<rect x="177.9" y="333.8" width="1.8" height="18.1" fill="url(#ppk15)"/>
<rect x="199.9" y="334.1" width="2.6" height="16.6" fill="url(#ppk12)"/>
<rect x="175.3" y="334.1" width="2.6" height="16.6" fill="url(#ppk12)"/>
<rect x="237.7" y="244.3" width="6.7" height="12.7" fill="url(#ppk14)"/>
<rect x="231.0" y="244.3" width="6.7" height="12.7" fill="url(#ppk14)"/>
<rect x="237.7" y="257.0" width="9.2" height="11.5" fill="url(#ppk16)"/>
<rect x="228.5" y="257.0" width="9.2" height="11.5" fill="url(#ppk16)"/>
<rect x="237.7" y="268.5" width="2.3" height="7.6" fill="url(#ppk10)"/>
<rect x="235.4" y="268.5" width="2.3" height="7.6" fill="url(#ppk10)"/>
<rect x="244.4" y="267.0" width="3.9" height="8.8" fill="url(#ppk18)"/>
<rect x="227.1" y="267.0" width="3.9" height="8.8" fill="url(#ppk18)"/>
<rect x="246.9" y="257.6" width="1.8" height="18.1" fill="url(#ppk15)"/>
<rect x="226.7" y="257.6" width="1.8" height="18.1" fill="url(#ppk15)"/>
<rect x="248.7" y="258.8" width="2.6" height="16.6" fill="url(#ppk12)"/>
<rect x="224.1" y="258.8" width="2.6" height="16.6" fill="url(#ppk12)"/>
<rect x="286.5" y="352.6" width="6.7" height="12.7" fill="url(#ppk14)"/>
<rect x="279.8" y="352.6" width="6.7" height="12.7" fill="url(#ppk14)"/>
<rect x="286.5" y="341.1" width="9.2" height="11.5" fill="url(#ppk16)"/>
<rect x="277.3" y="341.1" width="9.2" height="11.5" fill="url(#ppk16)"/>
<rect x="286.5" y="333.5" width="2.3" height="7.6" fill="url(#ppk10)"/>
<rect x="284.2" y="333.5" width="2.3" height="7.6" fill="url(#ppk10)"/>
<rect x="293.2" y="333.8" width="3.9" height="8.8" fill="url(#ppk18)"/>
<rect x="275.9" y="333.8" width="3.9" height="8.8" fill="url(#ppk18)"/>
<rect x="295.7" y="333.8" width="1.8" height="18.1" fill="url(#ppk15)"/>
<rect x="275.5" y="333.8" width="1.8" height="18.1" fill="url(#ppk15)"/>
<rect x="297.5" y="334.1" width="2.6" height="16.6" fill="url(#ppk12)"/>
<rect x="272.9" y="334.1" width="2.6" height="16.6" fill="url(#ppk12)"/>
<rect x="335.3" y="244.3" width="6.7" height="12.7" fill="url(#ppk14)"/>
<rect x="328.6" y="244.3" width="6.7" height="12.7" fill="url(#ppk14)"/>
<rect x="335.3" y="257.0" width="9.2" height="11.5" fill="url(#ppk16)"/>
<rect x="326.1" y="257.0" width="9.2" height="11.5" fill="url(#ppk16)"/>
<rect x="335.3" y="268.5" width="2.3" height="7.6" fill="url(#ppk10)"/>
<rect x="333.0" y="268.5" width="2.3" height="7.6" fill="url(#ppk10)"/>
<rect x="342.0" y="267.0" width="3.9" height="8.8" fill="url(#ppk18)"/>
<rect x="324.7" y="267.0" width="3.9" height="8.8" fill="url(#ppk18)"/>
<rect x="344.5" y="257.6" width="1.8" height="18.1" fill="url(#ppk15)"/>
<rect x="324.3" y="257.6" width="1.8" height="18.1" fill="url(#ppk15)"/>
<rect x="346.3" y="258.8" width="2.6" height="16.6" fill="url(#ppk12)"/>
<rect x="321.7" y="258.8" width="2.6" height="16.6" fill="url(#ppk12)"/>
<rect x="384.1" y="352.6" width="6.7" height="12.7" fill="url(#ppk14)"/>
<rect x="377.4" y="352.6" width="6.7" height="12.7" fill="url(#ppk14)"/>
<rect x="384.1" y="341.1" width="9.2" height="11.5" fill="url(#ppk16)"/>
<rect x="374.9" y="341.1" width="9.2" height="11.5" fill="url(#ppk16)"/>
<rect x="384.1" y="333.5" width="2.3" height="7.6" fill="url(#ppk10)"/>
<rect x="381.8" y="333.5" width="2.3" height="7.6" fill="url(#ppk10)"/>
<rect x="390.8" y="333.8" width="3.9" height="8.8" fill="url(#ppk18)"/>
<rect x="373.5" y="333.8" width="3.9" height="8.8" fill="url(#ppk18)"/>
<rect x="393.3" y="333.8" width="1.8" height="18.1" fill="url(#ppk15)"/>
<rect x="373.1" y="333.8" width="1.8" height="18.1" fill="url(#ppk15)"/>
<rect x="395.1" y="334.1" width="2.6" height="16.6" fill="url(#ppk12)"/>
<rect x="370.5" y="334.1" width="2.6" height="16.6" fill="url(#ppk12)"/>
<rect x="432.9" y="244.3" width="6.7" height="12.7" fill="url(#ppk14)"/>
<rect x="426.2" y="244.3" width="6.7" height="12.7" fill="url(#ppk14)"/>
<rect x="432.9" y="257.0" width="9.2" height="11.5" fill="url(#ppk16)"/>
<rect x="423.7" y="257.0" width="9.2" height="11.5" fill="url(#ppk16)"/>
<rect x="432.9" y="268.5" width="2.3" height="7.6" fill="url(#ppk10)"/>
<rect x="430.6" y="268.5" width="2.3" height="7.6" fill="url(#ppk10)"/>
<rect x="439.6" y="267.0" width="3.9" height="8.8" fill="url(#ppk18)"/>
<rect x="422.3" y="267.0" width="3.9" height="8.8" fill="url(#ppk18)"/>
<rect x="442.1" y="257.6" width="1.8" height="18.1" fill="url(#ppk15)"/>
<rect x="421.9" y="257.6" width="1.8" height="18.1" fill="url(#ppk15)"/>
<rect x="443.9" y="258.8" width="2.6" height="16.6" fill="url(#ppk12)"/>
<rect x="419.3" y="258.8" width="2.6" height="16.6" fill="url(#ppk12)"/>
<rect x="481.7" y="352.6" width="6.7" height="12.7" fill="url(#ppk14)"/>
<rect x="475.0" y="352.6" width="6.7" height="12.7" fill="url(#ppk14)"/>
<rect x="481.7" y="341.1" width="9.2" height="11.5" fill="url(#ppk16)"/>
<rect x="472.5" y="341.1" width="9.2" height="11.5" fill="url(#ppk16)"/>
<rect x="481.7" y="333.5" width="2.3" height="7.6" fill="url(#ppk10)"/>
<rect x="479.4" y="333.5" width="2.3" height="7.6" fill="url(#ppk10)"/>
<rect x="488.4" y="333.8" width="3.9" height="8.8" fill="url(#ppk18)"/>
<rect x="471.1" y="333.8" width="3.9" height="8.8" fill="url(#ppk18)"/>
<rect x="490.9" y="333.8" width="1.8" height="18.1" fill="url(#ppk15)"/>
<rect x="470.7" y="333.8" width="1.8" height="18.1" fill="url(#ppk15)"/>
<rect x="492.7" y="334.1" width="2.6" height="16.6" fill="url(#ppk12)"/>
<rect x="468.1" y="334.1" width="2.6" height="16.6" fill="url(#ppk12)"/>
<rect x="530.5" y="244.3" width="6.7" height="12.7" fill="url(#ppk14)"/>
<rect x="523.8" y="244.3" width="6.7" height="12.7" fill="url(#ppk14)"/>
<rect x="530.5" y="257.0" width="8.1" height="11.5" fill="url(#ppk16)"/>
<rect x="521.3" y="257.0" width="9.2" height="11.5" fill="url(#ppk16)"/>
<rect x="530.5" y="268.5" width="2.3" height="7.6" fill="url(#ppk10)"/>
<rect x="528.2" y="268.5" width="2.3" height="7.6" fill="url(#ppk10)"/>
<rect x="537.2" y="267.0" width="1.4" height="8.8" fill="url(#ppk18)"/>
<rect x="519.9" y="267.0" width="3.9" height="8.8" fill="url(#ppk18)"/>
<rect x="519.5" y="257.6" width="1.8" height="18.1" fill="url(#ppk15)"/>
<rect x="516.9" y="258.8" width="2.6" height="16.6" fill="url(#ppk12)"/>
<rect x="94.6" y="276.1" width="2.3" height="28.7" fill="url(#plb16)"/>
<rect x="53.1" y="276.1" width="2.3" height="28.7" fill="url(#plb16)"/>
<rect x="96.9" y="282.1" width="2.3" height="25.1" fill="url(#plb16)"/>
<rect x="50.8" y="282.1" width="2.3" height="25.1" fill="url(#plb16)"/>
<rect x="143.4" y="304.8" width="2.3" height="28.7" fill="url(#plb16)"/>
<rect x="101.9" y="304.8" width="2.3" height="28.7" fill="url(#plb16)"/>
<rect x="145.7" y="302.4" width="2.3" height="25.1" fill="url(#plb16)"/>
<rect x="99.6" y="302.4" width="2.3" height="25.1" fill="url(#plb16)"/>
<rect x="192.2" y="276.1" width="2.3" height="28.7" fill="url(#plb16)"/>
<rect x="150.7" y="276.1" width="2.3" height="28.7" fill="url(#plb16)"/>
<rect x="194.5" y="282.1" width="2.3" height="25.1" fill="url(#plb16)"/>
<rect x="148.4" y="282.1" width="2.3" height="25.1" fill="url(#plb16)"/>
<rect x="241.0" y="304.8" width="2.3" height="28.7" fill="url(#plb16)"/>
<rect x="199.5" y="304.8" width="2.3" height="28.7" fill="url(#plb16)"/>
<rect x="243.3" y="302.4" width="2.3" height="25.1" fill="url(#plb16)"/>
<rect x="197.2" y="302.4" width="2.3" height="25.1" fill="url(#plb16)"/>
<rect x="289.8" y="276.1" width="2.3" height="28.7" fill="url(#plb16)"/>
<rect x="248.3" y="276.1" width="2.3" height="28.7" fill="url(#plb16)"/>
<rect x="292.1" y="282.1" width="2.3" height="25.1" fill="url(#plb16)"/>
<rect x="246.0" y="282.1" width="2.3" height="25.1" fill="url(#plb16)"/>
<rect x="338.6" y="304.8" width="2.3" height="28.7" fill="url(#plb16)"/>
<rect x="297.1" y="304.8" width="2.3" height="28.7" fill="url(#plb16)"/>
<rect x="340.9" y="302.4" width="2.3" height="25.1" fill="url(#plb16)"/>
<rect x="294.8" y="302.4" width="2.3" height="25.1" fill="url(#plb16)"/>
<rect x="387.4" y="276.1" width="2.3" height="28.7" fill="url(#plb16)"/>
<rect x="345.9" y="276.1" width="2.3" height="28.7" fill="url(#plb16)"/>
<rect x="389.7" y="282.1" width="2.3" height="25.1" fill="url(#plb16)"/>
<rect x="343.6" y="282.1" width="2.3" height="25.1" fill="url(#plb16)"/>
<rect x="436.2" y="304.8" width="2.3" height="28.7" fill="url(#plb16)"/>
<rect x="394.7" y="304.8" width="2.3" height="28.7" fill="url(#plb16)"/>
<rect x="438.5" y="302.4" width="2.3" height="25.1" fill="url(#plb16)"/>
<rect x="392.4" y="302.4" width="2.3" height="25.1" fill="url(#plb16)"/>
<rect x="485.0" y="276.1" width="2.3" height="28.7" fill="url(#plb16)"/>
<rect x="443.5" y="276.1" width="2.3" height="28.7" fill="url(#plb16)"/>
<rect x="487.3" y="282.1" width="2.3" height="25.1" fill="url(#plb16)"/>
<rect x="441.2" y="282.1" width="2.3" height="25.1" fill="url(#plb16)"/>
<rect x="533.8" y="304.8" width="2.3" height="28.7" fill="url(#plb16)"/>
<rect x="492.3" y="304.8" width="2.3" height="28.7" fill="url(#plb16)"/>
<rect x="536.1" y="302.4" width="2.3" height="25.1" fill="url(#plb16)"/>
<rect x="490.0" y="302.4" width="2.3" height="25.1" fill="url(#plb16)"/>
<rect x="78.3" y="304.8" width="2.3" height="28.7" fill="url(#pdb16)"/>
<rect x="80.6" y="302.4" width="2.3" height="25.1" fill="url(#pdb16)"/>
<rect x="127.1" y="276.1" width="2.3" height="28.7" fill="url(#pdb16)"/>
<rect x="85.6" y="276.1" width="2.3" height="28.7" fill="url(#pdb16)"/>
<rect x="129.4" y="282.1" width="2.3" height="25.1" fill="url(#pdb16)"/>
<rect x="83.3" y="282.1" width="2.3" height="25.1" fill="url(#pdb16)"/>
<rect x="175.9" y="304.8" width="2.3" height="28.7" fill="url(#pdb16)"/>
<rect x="134.4" y="304.8" width="2.3" height="28.7" fill="url(#pdb16)"/>
<rect x="178.2" y="302.4" width="2.3" height="25.1" fill="url(#pdb16)"/>
<rect x="132.1" y="302.4" width="2.3" height="25.1" fill="url(#pdb16)"/>
<rect x="224.7" y="276.1" width="2.3" height="28.7" fill="url(#pdb16)"/>
<rect x="183.2" y="276.1" width="2.3" height="28.7" fill="url(#pdb16)"/>
<rect x="227.0" y="282.1" width="2.3" height="25.1" fill="url(#pdb16)"/>
<rect x="180.9" y="282.1" width="2.3" height="25.1" fill="url(#pdb16)"/>
<rect x="273.5" y="304.8" width="2.3" height="28.7" fill="url(#pdb16)"/>
<rect x="232.0" y="304.8" width="2.3" height="28.7" fill="url(#pdb16)"/>
<rect x="275.8" y="302.4" width="2.3" height="25.1" fill="url(#pdb16)"/>
<rect x="229.7" y="302.4" width="2.3" height="25.1" fill="url(#pdb16)"/>
<rect x="322.3" y="276.1" width="2.3" height="28.7" fill="url(#pdb16)"/>
<rect x="280.8" y="276.1" width="2.3" height="28.7" fill="url(#pdb16)"/>
<rect x="324.6" y="282.1" width="2.3" height="25.1" fill="url(#pdb16)"/>
<rect x="278.5" y="282.1" width="2.3" height="25.1" fill="url(#pdb16)"/>
<rect x="371.1" y="304.8" width="2.3" height="28.7" fill="url(#pdb16)"/>
<rect x="329.6" y="304.8" width="2.3" height="28.7" fill="url(#pdb16)"/>
<rect x="373.4" y="302.4" width="2.3" height="25.1" fill="url(#pdb16)"/>
<rect x="327.3" y="302.4" width="2.3" height="25.1" fill="url(#pdb16)"/>
<rect x="419.9" y="276.1" width="2.3" height="28.7" fill="url(#pdb16)"/>
<rect x="378.4" y="276.1" width="2.3" height="28.7" fill="url(#pdb16)"/>
<rect x="422.2" y="282.1" width="2.3" height="25.1" fill="url(#pdb16)"/>
<rect x="376.1" y="282.1" width="2.3" height="25.1" fill="url(#pdb16)"/>
<rect x="468.7" y="304.8" width="2.3" height="28.7" fill="url(#pdb16)"/>
<rect x="427.2" y="304.8" width="2.3" height="28.7" fill="url(#pdb16)"/>
<rect x="471.0" y="302.4" width="2.3" height="25.1" fill="url(#pdb16)"/>
<rect x="424.9" y="302.4" width="2.3" height="25.1" fill="url(#pdb16)"/>
<rect x="517.5" y="276.1" width="2.3" height="28.7" fill="url(#pdb16)"/>
<rect x="476.0" y="276.1" width="2.3" height="28.7" fill="url(#pdb16)"/>
<rect x="519.8" y="282.1" width="2.3" height="25.1" fill="url(#pdb16)"/>
<rect x="473.7" y="282.1" width="2.3" height="25.1" fill="url(#pdb16)"/>
<rect x="524.8" y="304.8" width="2.3" height="28.7" fill="url(#pdb16)"/>
<rect x="522.5" y="302.4" width="2.3" height="25.1" fill="url(#pdb16)"/>
<rect x="62.1" y="276.1" width="2.3" height="28.7" fill="url(#ppk16)"/>
<rect x="64.4" y="282.1" width="2.3" height="25.1" fill="url(#ppk16)"/>
<rect x="110.9" y="304.8" width="2.3" height="28.7" fill="url(#ppk16)"/>
<rect x="69.4" y="304.8" width="2.3" height="28.7" fill="url(#ppk16)"/>
<rect x="113.2" y="302.4" width="2.3" height="25.1" fill="url(#ppk16)"/>
<rect x="67.1" y="302.4" width="2.3" height="25.1" fill="url(#ppk16)"/>
<rect x="159.7" y="276.1" width="2.3" height="28.7" fill="url(#ppk16)"/>
<rect x="118.2" y="276.1" width="2.3" height="28.7" fill="url(#ppk16)"/>
<rect x="162.0" y="282.1" width="2.3" height="25.1" fill="url(#ppk16)"/>
<rect x="115.9" y="282.1" width="2.3" height="25.1" fill="url(#ppk16)"/>
<rect x="208.5" y="304.8" width="2.3" height="28.7" fill="url(#ppk16)"/>
<rect x="167.0" y="304.8" width="2.3" height="28.7" fill="url(#ppk16)"/>
<rect x="210.8" y="302.4" width="2.3" height="25.1" fill="url(#ppk16)"/>
<rect x="164.7" y="302.4" width="2.3" height="25.1" fill="url(#ppk16)"/>
<rect x="257.3" y="276.1" width="2.3" height="28.7" fill="url(#ppk16)"/>
<rect x="215.8" y="276.1" width="2.3" height="28.7" fill="url(#ppk16)"/>
<rect x="259.6" y="282.1" width="2.3" height="25.1" fill="url(#ppk16)"/>
<rect x="213.5" y="282.1" width="2.3" height="25.1" fill="url(#ppk16)"/>
<rect x="306.1" y="304.8" width="2.3" height="28.7" fill="url(#ppk16)"/>
<rect x="264.6" y="304.8" width="2.3" height="28.7" fill="url(#ppk16)"/>
<rect x="308.4" y="302.4" width="2.3" height="25.1" fill="url(#ppk16)"/>
<rect x="262.3" y="302.4" width="2.3" height="25.1" fill="url(#ppk16)"/>
<rect x="354.9" y="276.1" width="2.3" height="28.7" fill="url(#ppk16)"/>
<rect x="313.4" y="276.1" width="2.3" height="28.7" fill="url(#ppk16)"/>
<rect x="357.2" y="282.1" width="2.3" height="25.1" fill="url(#ppk16)"/>
<rect x="311.1" y="282.1" width="2.3" height="25.1" fill="url(#ppk16)"/>
<rect x="403.7" y="304.8" width="2.3" height="28.7" fill="url(#ppk16)"/>
<rect x="362.2" y="304.8" width="2.3" height="28.7" fill="url(#ppk16)"/>
<rect x="406.0" y="302.4" width="2.3" height="25.1" fill="url(#ppk16)"/>
<rect x="359.9" y="302.4" width="2.3" height="25.1" fill="url(#ppk16)"/>
<rect x="452.5" y="276.1" width="2.3" height="28.7" fill="url(#ppk16)"/>
<rect x="411.0" y="276.1" width="2.3" height="28.7" fill="url(#ppk16)"/>
<rect x="454.8" y="282.1" width="2.3" height="25.1" fill="url(#ppk16)"/>
<rect x="408.7" y="282.1" width="2.3" height="25.1" fill="url(#ppk16)"/>
<rect x="501.3" y="304.8" width="2.3" height="28.7" fill="url(#ppk16)"/>
<rect x="459.8" y="304.8" width="2.3" height="28.7" fill="url(#ppk16)"/>
<rect x="503.6" y="302.4" width="2.3" height="25.1" fill="url(#ppk16)"/>
<rect x="457.5" y="302.4" width="2.3" height="25.1" fill="url(#ppk16)"/>
<rect x="508.6" y="276.1" width="2.3" height="28.7" fill="url(#ppk16)"/>
<rect x="506.3" y="282.1" width="2.3" height="25.1" fill="url(#ppk16)"/>
<rect x="50.6" y="229.4" width="488.0" height="149.6" class="ax"/>
<line x1="50.6" y1="379.0" x2="50.6" y2="374.5" class="tk"/>
<line x1="50.6" y1="229.4" x2="50.6" y2="233.9" class="tk"/>
<line x1="99.4" y1="379.0" x2="99.4" y2="374.5" class="tk"/>
<line x1="99.4" y1="229.4" x2="99.4" y2="233.9" class="tk"/>
<line x1="148.2" y1="379.0" x2="148.2" y2="374.5" class="tk"/>
<line x1="148.2" y1="229.4" x2="148.2" y2="233.9" class="tk"/>
<line x1="197.0" y1="379.0" x2="197.0" y2="374.5" class="tk"/>
<line x1="197.0" y1="229.4" x2="197.0" y2="233.9" class="tk"/>
<line x1="245.8" y1="379.0" x2="245.8" y2="374.5" class="tk"/>
<line x1="245.8" y1="229.4" x2="245.8" y2="233.9" class="tk"/>
<line x1="294.6" y1="379.0" x2="294.6" y2="374.5" class="tk"/>
<line x1="294.6" y1="229.4" x2="294.6" y2="233.9" class="tk"/>
<line x1="343.4" y1="379.0" x2="343.4" y2="374.5" class="tk"/>
<line x1="343.4" y1="229.4" x2="343.4" y2="233.9" class="tk"/>
<line x1="392.2" y1="379.0" x2="392.2" y2="374.5" class="tk"/>
<line x1="392.2" y1="229.4" x2="392.2" y2="233.9" class="tk"/>
<line x1="441.0" y1="379.0" x2="441.0" y2="374.5" class="tk"/>
<line x1="441.0" y1="229.4" x2="441.0" y2="233.9" class="tk"/>
<line x1="489.8" y1="379.0" x2="489.8" y2="374.5" class="tk"/>
<line x1="489.8" y1="229.4" x2="489.8" y2="233.9" class="tk"/>
<line x1="538.6" y1="379.0" x2="538.6" y2="374.5" class="tk"/>
<line x1="538.6" y1="229.4" x2="538.6" y2="233.9" class="tk"/>
<line x1="50.6" y1="244.3" x2="55.1" y2="244.3" class="tk"/>
<line x1="538.6" y1="244.3" x2="534.1" y2="244.3" class="tk"/>
<line x1="50.6" y1="274.6" x2="55.1" y2="274.6" class="tk"/>
<line x1="538.6" y1="274.6" x2="534.1" y2="274.6" class="tk"/>
<line x1="50.6" y1="304.8" x2="55.1" y2="304.8" class="tk"/>
<line x1="538.6" y1="304.8" x2="534.1" y2="304.8" class="tk"/>
<line x1="50.6" y1="335.1" x2="55.1" y2="335.1" class="tk"/>
<line x1="538.6" y1="335.1" x2="534.1" y2="335.1" class="tk"/>
<line x1="50.6" y1="365.3" x2="55.1" y2="365.3" class="tk"/>
<line x1="538.6" y1="365.3" x2="534.1" y2="365.3" class="tk"/>
<text x="49.6" y="181.2" class="t" text-anchor="middle">0</text>
<text x="98.4" y="181.2" class="t" text-anchor="middle">0.01</text>
<text x="147.2" y="181.2" class="t" text-anchor="middle">0.02</text>
<text x="196.0" y="181.2" class="t" text-anchor="middle">0.03</text>
<text x="244.8" y="181.2" class="t" text-anchor="middle">0.04</text>
<text x="293.6" y="181.2" class="t" text-anchor="middle">0.05</text>
<text x="342.4" y="181.2" class="t" text-anchor="middle">0.06</text>
<text x="391.2" y="181.2" class="t" text-anchor="middle">0.07</text>
<text x="440.0" y="181.2" class="t" text-anchor="middle">0.08</text>
<text x="488.8" y="181.2" class="t" text-anchor="middle">0.09</text>
<text x="537.6" y="181.2" class="t" text-anchor="middle">0.1</text>
<text x="47.8" y="22.3" class="t" text-anchor="end">400</text>
<text x="47.8" y="56.8" class="t" text-anchor="end">200</text>
<text x="47.8" y="91.2" class="t" text-anchor="end">0</text>
<text x="47.8" y="125.7" class="t" text-anchor="end">-200</text>
<text x="47.8" y="160.2" class="t" text-anchor="end">-400</text>
<text x="293.6" y="196.8" class="l" text-anchor="middle">Time (sec)</text>
<text x="294.6" y="212.3" class="l" text-anchor="middle">(a)</text>
<text transform="translate(14.6 86.0) rotate(-90)" class="l" text-anchor="middle">Voltage (V)</text>
<text x="50.6" y="392.0" class="t" text-anchor="middle">0</text>
<text x="99.4" y="392.0" class="t" text-anchor="middle">0.01</text>
<text x="148.2" y="392.0" class="t" text-anchor="middle">0.02</text>
<text x="197.0" y="392.0" class="t" text-anchor="middle">0.03</text>
<text x="245.8" y="392.0" class="t" text-anchor="middle">0.04</text>
<text x="294.6" y="392.0" class="t" text-anchor="middle">0.05</text>
<text x="343.4" y="392.0" class="t" text-anchor="middle">0.06</text>
<text x="392.2" y="392.0" class="t" text-anchor="middle">0.07</text>
<text x="441.0" y="392.0" class="t" text-anchor="middle">0.08</text>
<text x="489.8" y="392.0" class="t" text-anchor="middle">0.09</text>
<text x="538.6" y="392.0" class="t" text-anchor="middle">0.1</text>
<text x="48.8" y="248.1" class="t" text-anchor="end">200</text>
<text x="48.8" y="278.4" class="t" text-anchor="end">100</text>
<text x="48.8" y="308.6" class="t" text-anchor="end">0</text>
<text x="48.8" y="338.9" class="t" text-anchor="end">-100</text>
<text x="48.8" y="369.1" class="t" text-anchor="end">-200</text>
<text x="294.6" y="414.5" class="l" text-anchor="middle">Time (sec)</text>
<text x="295.6" y="430.3" class="l" text-anchor="middle">(b)</text>
<text transform="translate(15.6 305.8) rotate(-90)" class="l" text-anchor="middle">Voltage (V)</text>
</svg>
</body></html>
